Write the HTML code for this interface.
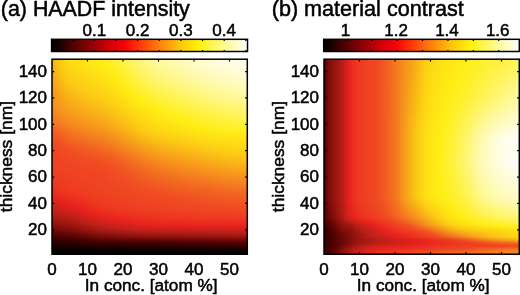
<!DOCTYPE html>
<html><head><meta charset="utf-8"><style>html,body{margin:0;padding:0;background:#fff;width:520px;height:295px;overflow:hidden;position:relative}
.hm{position:absolute;display:flex}.hm i{display:block;flex:0 0 2px;height:100%}</style></head>
<body>
<div class="hm" style="left:52px;top:59px;width:196px;height:196px"><i style="background:linear-gradient(#fab318,#fab118,#f9af18,#f9ac19,#f9aa19,#f9a819,#f9a61a,#f8a31a,#f8a11b,#f89e1b,#f89c1b,#f7991c,#f7971c,#f7941d,#f7911d,#f68f1e,#f68c1e,#f6881e,#f5841f,#f57f1f,#f47a1f,#f47520,#f36f20,#f36721,#f25f21,#f15722,#f15123,#f04d23,#f04a23,#f04823,#ef4723,#ef4622,#ef4422,#ef4322,#ef4222,#ef4122,#ee4022,#ee3f22,#ee3e21,#ee3d21,#ee3b21,#ed3821,#ed3520,#ec3120,#ec2c1f,#eb271f,#e7221e,#de221d,#d5211b,#cc211a,#c32019,#ba2018,#b01d16,#a51913,#991510,#8d110d,#7c0d0a,#6a0907,#580503,#460000,#360000,#270000,#190000,#0c0000,#020000,#000000)"></i><i style="background:linear-gradient(#fbba16,#fab817,#fab617,#fab317,#fab118,#f9ae18,#f9ac19,#f9a919,#f9a61a,#f8a41a,#f8a11b,#f89e1b,#f79b1c,#f7981c,#f7951d,#f7921d,#f68f1e,#f68b1e,#f6871e,#f5821f,#f57d1f,#f47720,#f47120,#f36a21,#f26221,#f15a22,#f15422,#f05023,#f04c23,#f04a23,#f04823,#ef4622,#ef4522,#ef4422,#ef4322,#ef4222,#ee4122,#ee4022,#ee3f21,#ee3d21,#ee3b21,#ed3921,#ed3620,#ec3220,#ec2e1f,#eb291f,#ea221e,#e1221d,#d8211c,#cf211b,#c5211a,#bc2018,#b11d16,#a61a13,#9b1610,#8e110d,#7e0d0a,#6c0907,#590504,#470101,#370000,#280000,#1a0000,#0d0000,#020000,#000000)"></i><i style="background:linear-gradient(#fbc215,#fbbf15,#fbbd16,#fbba16,#fab717,#fab517,#fab218,#f9af18,#f9ac19,#f9a919,#f9a51a,#f8a21a,#f89f1b,#f89b1b,#f7981c,#f7951c,#f7921d,#f68f1e,#f68a1e,#f5851f,#f5801f,#f47a1f,#f47420,#f36d20,#f26521,#f25d22,#f15722,#f15222,#f04e23,#f04b23,#f04923,#ef4723,#ef4622,#ef4522,#ef4322,#ef4222,#ef4122,#ee4022,#ee3f22,#ee3e21,#ee3c21,#ed3a21,#ed3721,#ed3420,#ec3020,#eb2b1f,#ea241e,#e3221d,#da211c,#d1211b,#c7211a,#bd2019,#b31e16,#a81a14,#9c1611,#90120d,#7f0e0a,#6d0907,#5b0504,#480101,#380000,#290000,#1a0000,#0d0000,#020000,#000000)"></i><i style="background:linear-gradient(#fcc814,#fcc614,#fcc315,#fbc115,#fbbe16,#fbbb16,#fab717,#fab417,#fab118,#f9ae18,#f9aa19,#f9a61a,#f8a31a,#f89f1b,#f89c1b,#f7981c,#f7951c,#f7911d,#f68d1e,#f6881e,#f5831f,#f57c1f,#f47620,#f36f20,#f36821,#f26021,#f15a22,#f15522,#f15123,#f04c23,#f04a23,#f04823,#ef4622,#ef4522,#ef4422,#ef4322,#ef4222,#ee4122,#ee3f22,#ee3e21,#ee3d21,#ee3b21,#ed3821,#ed3520,#ec3220,#ec2d1f,#eb261e,#e6221d,#dc211c,#d3211b,#ca211a,#bf2019,#b51f17,#aa1b14,#9d1711,#91120e,#810e0b,#6f0a07,#5c0604,#4a0101,#390000,#2a0000,#1b0000,#0d0000,#020000,#000000)"></i><i style="background:linear-gradient(#fccd14,#fccb14,#fcc914,#fcc714,#fcc415,#fbc015,#fbbd16,#fbb916,#fab617,#fab218,#f9ae18,#f9aa19,#f9a61a,#f8a21a,#f89f1b,#f89c1b,#f7981c,#f7941d,#f6901d,#f68b1e,#f5851f,#f57f1f,#f4791f,#f47220,#f36a21,#f26321,#f25d22,#f15822,#f15322,#f04e23,#f04b23,#f04923,#ef4723,#ef4622,#ef4422,#ef4322,#ef4222,#ef4122,#ee4022,#ee3f21,#ee3d21,#ee3b21,#ed3921,#ed3721,#ed3320,#ec2e20,#eb281f,#e8221e,#df221d,#d6211c,#cc211a,#c12019,#b71f17,#ab1b14,#9f1711,#92130e,#830e0b,#700a08,#5e0604,#4b0201,#3a0000,#2a0000,#1c0000,#0e0000,#020000,#000000)"></i><i style="background:linear-gradient(#fdd214,#fdd014,#fccd14,#fccb14,#fcc914,#fcc614,#fbc215,#fbbe16,#fbbb16,#fab717,#fab318,#f9ae18,#f9aa19,#f9a61a,#f8a21a,#f89f1b,#f79b1c,#f7971c,#f7931d,#f68e1e,#f6881e,#f5821f,#f47b1f,#f47420,#f36d20,#f36621,#f26021,#f15b22,#f15522,#f05023,#f04c23,#f04923,#f04823,#ef4622,#ef4522,#ef4422,#ef4322,#ef4122,#ee4022,#ee3f22,#ee3e21,#ee3c21,#ee3a21,#ed3821,#ed3520,#ec3020,#eb2a1f,#ea221e,#e1221d,#d8211c,#ce211b,#c32019,#b82018,#ad1c15,#a11812,#94130e,#850f0b,#720b08,#5f0605,#4c0201,#3b0000,#2b0000,#1c0000,#0e0000,#020000,#000000)"></i><i style="background:linear-gradient(#fdd614,#fdd314,#fdd114,#fdcf14,#fccc14,#fcca14,#fcc714,#fbc315,#fbbf16,#fbbb16,#fab617,#fab218,#f9ad18,#f9a919,#f9a51a,#f8a11a,#f89e1b,#f79a1c,#f7951c,#f6901d,#f68b1e,#f5841f,#f57e1f,#f47720,#f37020,#f36921,#f26321,#f25d22,#f15722,#f15222,#f04d23,#f04a23,#f04823,#ef4723,#ef4622,#ef4422,#ef4322,#ef4222,#ef4122,#ee4022,#ee3e21,#ee3d21,#ee3b21,#ed3921,#ed3620,#ec3220,#eb2b1f,#ea241e,#e3221d,#da211c,#d0211b,#c5211a,#ba2018,#af1c15,#a21812,#95140f,#870f0c,#740b08,#610705,#4e0202,#3c0000,#2c0000,#1d0000,#0e0000,#020000,#000000)"></i><i style="background:linear-gradient(#fdd914,#fdd714,#fdd414,#fdd214,#fdcf14,#fccd14,#fcca14,#fcc714,#fbc315,#fbbf16,#fbba16,#fab517,#fab018,#f9ac19,#f9a819,#f8a41a,#f8a01b,#f89c1b,#f7981c,#f7921d,#f68d1e,#f5861e,#f5801f,#f4791f,#f47220,#f36c20,#f26521,#f25f21,#f15922,#f15422,#f04f23,#f04b23,#f04923,#ef4723,#ef4622,#ef4522,#ef4322,#ef4222,#ef4122,#ee4022,#ee3f22,#ee3d21,#ee3c21,#ee3a21,#ed3821,#ed3320,#ec2d1f,#eb261e,#e6221d,#dc211c,#d2211b,#c8211a,#bc2018,#b11d16,#a41913,#97140f,#8a100c,#760b09,#630705,#4f0302,#3d0000,#2d0000,#1d0000,#0e0000,#030000,#000000)"></i><i style="background:linear-gradient(#fedc14,#fdd914,#fdd714,#fdd414,#fdd214,#fdcf14,#fccc14,#fcca14,#fcc614,#fbc215,#fbbd16,#fab817,#fab317,#f9af18,#f9ab19,#f9a71a,#f8a31a,#f89f1b,#f79a1c,#f7951d,#f68f1d,#f6891e,#f5821f,#f47b1f,#f47520,#f36e20,#f36821,#f26221,#f25b22,#f15522,#f05023,#f04c23,#f04a23,#f04823,#ef4722,#ef4522,#ef4422,#ef4322,#ef4222,#ee4022,#ee3f22,#ee3e21,#ee3d21,#ee3b21,#ed3921,#ed3420,#ec2e20,#eb271f,#e8221e,#df221d,#d5211b,#ca211a,#be2019,#b31e16,#a61a13,#991510,#8b100c,#780c09,#650706,#510302,#3e0000,#2e0000,#1e0000,#0f0000,#030000,#000000)"></i><i style="background:linear-gradient(#fede14,#fedb14,#fdd914,#fdd714,#fdd414,#fdd114,#fdce14,#fccc14,#fcc914,#fcc515,#fbc015,#fbbb16,#fab617,#fab118,#f9ad19,#f9a919,#f9a51a,#f8a11b,#f89c1b,#f7971c,#f6911d,#f68b1e,#f5841f,#f57e1f,#f47720,#f37020,#f36a21,#f26421,#f25d22,#f15722,#f15222,#f04e23,#f04a23,#f04923,#ef4723,#ef4622,#ef4422,#ef4322,#ef4222,#ef4122,#ee4022,#ee3f21,#ee3d21,#ee3c21,#ed3921,#ed3520,#ec3020,#eb291f,#ea221e,#e1221d,#d7211c,#cc211a,#c02019,#b51f17,#a81a14,#9b1610,#8d110d,#7a0c09,#670806,#520302,#3f0000,#2f0000,#1e0000,#0f0000,#030000,#000000)"></i><i style="background:linear-gradient(#fedf14,#fedd14,#fddb14,#fdd814,#fdd614,#fdd314,#fdd014,#fccd14,#fcca14,#fcc714,#fbc215,#fbbd16,#fab817,#fab417,#faaf18,#f9ab19,#f9a719,#f8a31a,#f89e1b,#f7991c,#f7931d,#f68d1e,#f5871e,#f5801f,#f4791f,#f47320,#f36c20,#f26621,#f25f21,#f15922,#f15322,#f04f23,#f04b23,#f04923,#ef4823,#ef4622,#ef4522,#ef4422,#ef4222,#ef4122,#ee4022,#ee3f22,#ee3e21,#ee3c21,#ee3a21,#ed3620,#ec3120,#eb2a1f,#ea231e,#e3221d,#d9211c,#ce211b,#c32019,#b71f17,#aa1b14,#9d1611,#8f120d,#7d0d0a,#690806,#540403,#410000,#300000,#1f0000,#0f0000,#030000,#000000)"></i><i style="background:linear-gradient(#fee114,#fedf14,#fedc14,#fdda14,#fdd714,#fdd514,#fdd214,#fdcf14,#fccc14,#fcc914,#fcc515,#fbc015,#fbbb16,#fab617,#fab118,#f9ad18,#f9a919,#f8a51a,#f8a01b,#f79a1c,#f7951d,#f68f1e,#f6891e,#f5821f,#f47b1f,#f47520,#f36e20,#f36721,#f26121,#f15a22,#f15522,#f05023,#f04c23,#f04a23,#f04823,#ef4622,#ef4522,#ef4422,#ef4322,#ef4222,#ee4022,#ee3f22,#ee3e21,#ee3d21,#ee3b21,#ed3721,#ec3220,#eb2c1f,#ea251e,#e6221d,#dc211c,#d1211b,#c5211a,#b92018,#ad1c15,#9f1711,#91120e,#800e0a,#6b0907,#560403,#420000,#300000,#1f0000,#0f0000,#030000,#000000)"></i><i style="background:linear-gradient(#fee214,#fee014,#fede14,#fedb14,#fdd914,#fdd614,#fdd314,#fdd014,#fcce14,#fcca14,#fcc714,#fbc215,#fbbd16,#fab817,#fab417,#faaf18,#f9ab19,#f9a71a,#f8a21a,#f89c1b,#f7961c,#f6911d,#f68b1e,#f5841f,#f57d1f,#f47720,#f37020,#f36921,#f26221,#f25c22,#f15622,#f15123,#f04d23,#f04a23,#f04823,#ef4722,#ef4522,#ef4422,#ef4322,#ef4222,#ef4122,#ee4022,#ee3f22,#ee3d21,#ee3c21,#ed3821,#ed3320,#ec2d1f,#eb271f,#e8221e,#de221d,#d4211b,#c8211a,#bc2018,#af1d15,#a11812,#93130e,#830e0b,#6e0a07,#580503,#440000,#310000,#200000,#100000,#030000,#000000)"></i><i style="background:linear-gradient(#fee414,#fee214,#fedf14,#fedd14,#fdda14,#fdd714,#fdd514,#fdd214,#fdcf14,#fccc14,#fcc914,#fcc415,#fbbf16,#fbba16,#fab617,#fab118,#f9ad18,#f9a819,#f8a31a,#f89e1b,#f7981c,#f7921d,#f68d1e,#f5861e,#f57f1f,#f47820,#f47220,#f36b21,#f26421,#f25d22,#f15722,#f15322,#f04e23,#f04b23,#f04923,#ef4723,#ef4622,#ef4522,#ef4322,#ef4222,#ef4122,#ee4022,#ee3f22,#ee3e21,#ee3c21,#ed3921,#ed3420,#ec2f20,#eb291f,#ea221e,#e1221d,#d6211c,#cb211a,#bf2019,#b21e16,#a41913,#96140f,#860f0b,#700a08,#5b0504,#450000,#320000,#210000,#100000,#030000,#000000)"></i><i style="background:linear-gradient(#fee514,#fee314,#fee014,#fede14,#fedb14,#fdd914,#fdd614,#fdd314,#fdd014,#fccd14,#fcca14,#fcc614,#fbc115,#fbbc16,#fab717,#fab317,#f9af18,#f9aa19,#f9a51a,#f8a01b,#f79a1c,#f7941d,#f68e1e,#f6881e,#f5811f,#f47a1f,#f47320,#f36c20,#f26521,#f25f21,#f15922,#f15422,#f04f23,#f04b23,#f04923,#f04823,#ef4622,#ef4522,#ef4422,#ef4322,#ef4222,#ee4122,#ee4022,#ee3e21,#ee3d21,#ed3a21,#ed3520,#ec3020,#eb2a1f,#ea241e,#e4221d,#d9211c,#ce211b,#c22019,#b51f17,#a71a13,#991510,#8a100c,#730b08,#5d0604,#470101,#340000,#210000,#100000,#030000,#000000)"></i><i style="background:linear-gradient(#fee614,#fee414,#fee114,#fedf14,#fedd14,#fdda14,#fdd714,#fdd414,#fdd114,#fdce14,#fccb14,#fcc814,#fbc315,#fbbe16,#fbb916,#fab517,#fab018,#f9ac19,#f9a71a,#f8a11a,#f89b1b,#f7951c,#f6901d,#f68a1e,#f5831f,#f57c1f,#f47520,#f36e20,#f36721,#f26021,#f15a22,#f15522,#f05023,#f04c23,#f04a23,#f04823,#ef4622,#ef4522,#ef4422,#ef4322,#ef4222,#ef4122,#ee4022,#ee3f22,#ee3d21,#ee3a21,#ed3620,#ec3120,#eb2c1f,#eb261f,#e7221e,#dc211c,#d1211b,#c52019,#b82018,#aa1b14,#9b1610,#8c110d,#760b09,#5f0605,#490101,#350000,#220000,#100000,#030000,#000000)"></i><i style="background:linear-gradient(#fee714,#fee514,#fee314,#fee014,#fede14,#fddb14,#fdd814,#fdd514,#fdd314,#fdd014,#fccc14,#fcc914,#fcc415,#fbc015,#fbbb16,#fab717,#fab218,#f9ad18,#f9a819,#f8a31a,#f89d1b,#f7971c,#f7911d,#f68b1e,#f5841f,#f57d1f,#f47620,#f36f20,#f36821,#f26221,#f25b22,#f15622,#f15123,#f04d23,#f04a23,#f04823,#ef4722,#ef4622,#ef4422,#ef4322,#ef4222,#ef4122,#ee4022,#ee3f22,#ee3e21,#ee3b21,#ed3721,#ec3320,#ec2e1f,#eb281f,#e9221e,#df221d,#d4211b,#c8211a,#bb2018,#ad1c15,#9e1711,#8f120d,#790c09,#620705,#4b0201,#360000,#220000,#110000,#030000,#000000)"></i><i style="background:linear-gradient(#ffe814,#fee614,#fee314,#fee114,#fedf14,#fedc14,#fdd914,#fdd714,#fdd414,#fdd114,#fcce14,#fcca14,#fcc614,#fbc115,#fbbd16,#fab817,#fab417,#faaf18,#f9aa19,#f8a41a,#f89f1b,#f7991c,#f7931d,#f68d1e,#f5861e,#f57f1f,#f47820,#f37120,#f36a21,#f26321,#f25d22,#f15722,#f15222,#f04e23,#f04b23,#f04923,#ef4723,#ef4622,#ef4522,#ef4422,#ef4322,#ef4222,#ee4122,#ee4022,#ee3e21,#ee3c21,#ed3821,#ed3420,#ec2f20,#eb2a1f,#ea241e,#e2221d,#d7211c,#cb211a,#be2019,#b01d16,#a11812,#91120e,#7c0d0a,#640705,#4d0201,#370000,#230000,#110000,#030000,#000000)"></i><i style="background:linear-gradient(#ffe914,#fee714,#fee414,#fee214,#fee014,#fedd14,#fdda14,#fdd814,#fdd514,#fdd214,#fdcf14,#fccb14,#fcc814,#fcc315,#fbbf16,#fbba16,#fab517,#fab118,#f9ab19,#f9a61a,#f8a01b,#f79a1c,#f7941d,#f68f1e,#f6881e,#f5811f,#f47a1f,#f47220,#f36b21,#f26521,#f25e22,#f15822,#f15322,#f04f23,#f04b23,#f04923,#ef4823,#ef4622,#ef4522,#ef4422,#ef4322,#ef4222,#ef4122,#ee4022,#ee3f21,#ee3c21,#ed3921,#ed3520,#ec3120,#ec2c1f,#eb261e,#e5221d,#da211c,#ce211b,#c12019,#b31e16,#a41913,#94130e,#7f0e0a,#660806,#4f0202,#380000,#230000,#110000,#030000,#000000)"></i><i style="background:linear-gradient(#ffea14,#fee814,#fee514,#fee314,#fee114,#fede14,#fedb14,#fdd914,#fdd614,#fdd314,#fdd014,#fccd14,#fcc914,#fcc515,#fbc015,#fbbc16,#fab717,#fab218,#f9ad19,#f9a719,#f8a21a,#f89c1b,#f7961c,#f6901d,#f68a1e,#f5821f,#f47b1f,#f47420,#f36d20,#f26621,#f26021,#f15a22,#f15422,#f05023,#f04c23,#f04923,#f04823,#ef4722,#ef4522,#ef4422,#ef4322,#ef4222,#ef4122,#ee4022,#ee3f22,#ee3d21,#ee3a21,#ed3620,#ec3320,#ec2e1f,#eb281f,#e8221e,#dd211c,#d1211b,#c42019,#b61f17,#a71a13,#96140f,#820e0b,#690806,#500302,#390000,#240000,#110000,#030000,#000000)"></i><i style="background:linear-gradient(#ffeb14,#ffe914,#fee614,#fee414,#fee214,#fedf14,#fedc14,#fdda14,#fdd714,#fdd414,#fdd114,#fcce14,#fcca14,#fcc714,#fbc215,#fbbd16,#fab917,#fab417,#f9af18,#f9a919,#f8a31a,#f89d1b,#f7981c,#f7921d,#f68b1e,#f5841f,#f57d1f,#f47520,#f36e20,#f36721,#f26121,#f15b22,#f15622,#f15123,#f04d23,#f04a23,#f04823,#ef4723,#ef4622,#ef4522,#ef4322,#ef4322,#ef4222,#ee4122,#ee3f22,#ee3d21,#ee3b21,#ed3821,#ed3420,#ec3020,#eb2a1f,#ea221e,#df221d,#d4211b,#c7211a,#b92018,#aa1b14,#991510,#850f0b,#6b0907,#520302,#3a0000,#240000,#120000,#030000,#000000)"></i><i style="background:linear-gradient(#ffec14,#ffe914,#fee714,#fee514,#fee314,#fee014,#fedd14,#fddb14,#fdd814,#fdd514,#fdd214,#fdcf14,#fccc14,#fcc814,#fcc415,#fbbf15,#fbba16,#fab517,#fab018,#f9ab19,#f8a51a,#f89f1b,#f7991c,#f7931d,#f68d1e,#f5861e,#f57e1f,#f47720,#f37020,#f36921,#f26221,#f25c22,#f15722,#f15222,#f04d23,#f04a23,#f04923,#ef4723,#ef4622,#ef4522,#ef4422,#ef4322,#ef4222,#ef4122,#ee4022,#ee3e21,#ee3c21,#ed3921,#ed3520,#ec3220,#eb2c1f,#ea241e,#e2221d,#d7211c,#ca211a,#bc2018,#ac1c15,#9b1610,#88100c,#6d0907,#540403,#3a0000,#240000,#120000,#030000,#000000)"></i><i style="background:linear-gradient(#ffed14,#ffea14,#ffe814,#fee614,#fee414,#fee114,#fedf14,#fedc14,#fdd914,#fdd614,#fdd314,#fdd014,#fccd14,#fcca14,#fcc614,#fbc115,#fbbc16,#fab717,#fab218,#f9ac19,#f9a71a,#f8a11b,#f79b1c,#f7951d,#f68f1e,#f6871e,#f5801f,#f47820,#f47120,#f36b21,#f26421,#f25e22,#f15822,#f15322,#f04e23,#f04b23,#f04923,#f04823,#ef4622,#ef4522,#ef4422,#ef4322,#ef4222,#ef4122,#ee4022,#ee3e21,#ee3c21,#ed3a21,#ed3721,#ec3320,#ec2e1f,#eb261f,#e5221d,#da211c,#cd211a,#bf2019,#af1d15,#9d1711,#8b100c,#6f0a07,#550403,#3b0000,#250000,#120000,#030000,#000000)"></i><i style="background:linear-gradient(#ffee14,#ffec14,#ffe914,#fee714,#fee514,#fee214,#fee014,#fedd14,#fdda14,#fdd814,#fdd514,#fdd114,#fcce14,#fccb14,#fcc714,#fbc315,#fbbe16,#fab917,#fab317,#f9ae18,#f9a819,#f8a21a,#f89d1b,#f7971c,#f6901d,#f6891e,#f5821f,#f47a1f,#f47320,#f36c20,#f26521,#f25f21,#f15922,#f15422,#f04f23,#f04b23,#f04a23,#f04823,#ef4722,#ef4622,#ef4522,#ef4422,#ef4322,#ef4222,#ee4122,#ee3f22,#ee3d21,#ee3b21,#ed3821,#ed3420,#ec2f20,#eb281f,#e7221e,#dc211c,#cf211b,#c12019,#b11d16,#a01711,#8c110d,#710a08,#570403,#3c0000,#250000,#120000,#030000,#000000)"></i><i style="background:linear-gradient(#ffee16,#ffed14,#ffeb14,#ffe814,#fee614,#fee314,#fee114,#fede14,#fedc14,#fdd914,#fdd614,#fdd314,#fdd014,#fccc14,#fcc914,#fcc415,#fbc015,#fbba16,#fab517,#fab018,#f9aa19,#f8a41a,#f89e1b,#f7981c,#f7921d,#f68b1e,#f5831f,#f57c1f,#f47520,#f36e20,#f36721,#f26121,#f15a22,#f15522,#f05023,#f04c23,#f04a23,#f04923,#ef4723,#ef4622,#ef4522,#ef4422,#ef4322,#ef4222,#ef4122,#ee3f22,#ee3e21,#ee3b21,#ed3921,#ed3620,#ec3120,#eb2a1f,#e9221e,#de221d,#d2211b,#c32019,#b41e17,#a21812,#8e110d,#730b08,#580503,#3d0000,#260000,#120000,#030000,#000000)"></i><i style="background:linear-gradient(#ffee19,#ffee14,#ffec14,#ffea14,#fee714,#fee514,#fee214,#fee014,#fedd14,#fdda14,#fdd714,#fdd414,#fdd114,#fcce14,#fcca14,#fcc614,#fbc115,#fbbc16,#fab717,#fab118,#f9ac19,#f9a61a,#f8a01b,#f79a1c,#f7941d,#f68d1e,#f5851f,#f57e1f,#f47620,#f37020,#f36921,#f26221,#f25c22,#f15622,#f15123,#f04d23,#f04b23,#f04923,#f04823,#ef4722,#ef4522,#ef4522,#ef4422,#ef4322,#ef4122,#ee4022,#ee3e21,#ee3c21,#ed3a21,#ed3721,#ec3220,#eb2b1f,#ea231e,#e0221d,#d4211b,#c5211a,#b61f17,#a31912,#8f120d,#750b08,#590504,#3d0000,#260000,#130000,#030000,#000000)"></i><i style="background:linear-gradient(#ffef1c,#ffee17,#ffed14,#ffeb14,#ffe914,#fee614,#fee414,#fee114,#fede14,#fedc14,#fdd914,#fdd614,#fdd214,#fdcf14,#fccc14,#fcc814,#fcc315,#fbbe16,#fab917,#fab317,#f9ae18,#f9a819,#f8a21a,#f89c1b,#f7951c,#f68f1e,#f6871e,#f5801f,#f47820,#f47220,#f36b21,#f26421,#f25d22,#f15722,#f15222,#f04e23,#f04b23,#f04a23,#f04823,#ef4723,#ef4622,#ef4522,#ef4422,#ef4322,#ef4222,#ee4022,#ee3f22,#ee3d21,#ee3a21,#ed3821,#ec3320,#eb2c1f,#ea241e,#e2221d,#d6211c,#c7211a,#b82018,#a51913,#91120e,#760c09,#5a0504,#3e0000,#260000,#130000,#030000,#000000)"></i><i style="background:linear-gradient(#ffef1f,#ffef1b,#ffee16,#ffed14,#ffea14,#ffe814,#fee514,#fee314,#fee014,#fedd14,#fdda14,#fdd714,#fdd414,#fdd114,#fccd14,#fcca14,#fcc514,#fbc015,#fbbb16,#fab517,#fab018,#f9aa19,#f8a41a,#f89e1b,#f7971c,#f6911d,#f68a1e,#f5821f,#f47a1f,#f47420,#f36c20,#f26521,#f25f21,#f15922,#f15322,#f04f23,#f04c23,#f04a23,#f04923,#ef4823,#ef4622,#ef4522,#ef4522,#ef4422,#ef4222,#ef4122,#ee3f22,#ee3d21,#ee3b21,#ed3821,#ed3420,#ec2d1f,#ea251e,#e4221d,#d7211c,#c9211a,#b92018,#a61a13,#92130e,#780c09,#5a0504,#3e0000,#270000,#130000,#030000,#000000)"></i><i style="background:linear-gradient(#ffef23,#ffef1f,#ffee1a,#ffee15,#ffec14,#ffea14,#fee714,#fee414,#fee214,#fedf14,#fedc14,#fdd914,#fdd614,#fdd214,#fdcf14,#fccb14,#fcc814,#fbc215,#fbbd16,#fab817,#fab218,#f9ac19,#f9a61a,#f8a01b,#f79a1c,#f7931d,#f68c1e,#f5841f,#f57d1f,#f47620,#f36e20,#f36721,#f26021,#f15a22,#f15522,#f15123,#f04d23,#f04b23,#f04923,#f04823,#ef4723,#ef4622,#ef4522,#ef4422,#ef4322,#ef4222,#ee4022,#ee3e21,#ee3c21,#ed3921,#ed3420,#ec2e1f,#eb261f,#e5221d,#d9211c,#cb211a,#bb2018,#a81a14,#93130e,#790c09,#5b0504,#3e0000,#270000,#130000,#030000,#000000)"></i><i style="background:linear-gradient(#fff028,#ffef23,#ffef1e,#ffee19,#ffee14,#ffeb14,#ffe914,#fee614,#fee314,#fee114,#fede14,#fddb14,#fdd714,#fdd414,#fdd014,#fccd14,#fcc914,#fcc515,#fbbf15,#fbba16,#fab417,#f9af18,#f9a919,#f8a21a,#f89c1b,#f7951c,#f68e1e,#f5871e,#f57f1f,#f47820,#f37120,#f36921,#f26221,#f25c22,#f15622,#f15222,#f04f23,#f04c23,#f04a23,#f04923,#ef4823,#ef4722,#ef4622,#ef4522,#ef4322,#ef4222,#ee4122,#ee3f21,#ee3c21,#ed3921,#ed3520,#ec2f20,#eb271f,#e7221e,#da211c,#cc211a,#bc2018,#a91b14,#94130f,#7a0c09,#5b0504,#3f0000,#270000,#130000,#030000,#000000)"></i><i style="background:linear-gradient(#fff02c,#fff028,#ffef23,#ffef1e,#ffee18,#ffed14,#ffeb14,#ffe814,#fee514,#fee214,#fedf14,#fedc14,#fdd914,#fdd614,#fdd214,#fdcf14,#fccb14,#fcc714,#fbc215,#fbbc16,#fab717,#fab118,#f9ab19,#f8a51a,#f89e1b,#f7971c,#f6901d,#f6891e,#f5821f,#f47a1f,#f47320,#f36c20,#f26421,#f25e22,#f15822,#f15422,#f05023,#f04d23,#f04b23,#f04923,#f04823,#ef4723,#ef4622,#ef4522,#ef4422,#ef4322,#ef4122,#ee3f22,#ee3d21,#ee3a21,#ed3620,#ec3020,#eb291f,#e8221e,#dc211c,#ce211b,#be2019,#ab1b14,#95140f,#7b0d09,#5c0504,#3f0000,#280000,#130000,#030000,#000000)"></i><i style="background:linear-gradient(#fff031,#fff02d,#fff028,#ffef22,#ffef1d,#ffee17,#ffed14,#ffea14,#fee714,#fee414,#fee114,#fede14,#fddb14,#fdd714,#fdd414,#fdd014,#fccd14,#fcc914,#fcc415,#fbbe16,#fab917,#fab317,#f9ae18,#f9a719,#f8a11b,#f79a1c,#f7931d,#f68c1e,#f5841f,#f57d1f,#f47520,#f36e20,#f36621,#f26021,#f15a22,#f15522,#f15222,#f04f23,#f04c23,#f04a23,#f04923,#f04823,#ef4722,#ef4622,#ef4422,#ef4322,#ef4222,#ee4022,#ee3d21,#ee3b21,#ed3620,#ec3120,#eb2a1f,#ea221e,#de211c,#cf211b,#c02019,#ac1c15,#96140f,#7c0d0a,#5c0604,#3f0000,#280000,#140000,#030000,#000000)"></i><i style="background:linear-gradient(#fff136,#fff032,#fff02d,#fff027,#ffef22,#ffef1c,#ffee16,#ffec14,#ffe914,#fee614,#fee314,#fee014,#fedd14,#fdd914,#fdd614,#fdd214,#fdce14,#fccb14,#fcc614,#fbc115,#fbbc16,#fab617,#fab018,#f9aa19,#f8a41a,#f89d1b,#f7951c,#f68e1e,#f6871e,#f5801f,#f47820,#f37020,#f36921,#f26221,#f25c22,#f15722,#f15322,#f05023,#f04d23,#f04b23,#f04a23,#f04823,#ef4723,#ef4622,#ef4522,#ef4422,#ef4222,#ee4022,#ee3e21,#ee3b21,#ed3721,#ec3120,#eb2b1f,#ea231e,#df221d,#d1211b,#c12019,#ad1c15,#97150f,#7d0d0a,#5d0604,#3f0000,#280000,#140000,#030000,#000000)"></i><i style="background:linear-gradient(#fff13c,#fff137,#fff032,#fff02c,#fff027,#ffef21,#ffef1b,#ffee14,#ffeb14,#ffe814,#fee514,#fee214,#fedf14,#fedb14,#fdd814,#fdd414,#fdd014,#fccc14,#fcc914,#fcc415,#fbbe16,#fab917,#fab318,#f9ad19,#f9a61a,#f89f1b,#f7981c,#f6911d,#f68a1e,#f5821f,#f47b1f,#f47320,#f36b21,#f26421,#f25e22,#f15922,#f15522,#f15222,#f04f23,#f04c23,#f04a23,#f04923,#f04823,#ef4722,#ef4522,#ef4422,#ef4222,#ee4122,#ee3e21,#ee3c21,#ed3821,#ec3220,#eb2c1f,#ea241e,#e1221d,#d2211b,#c32019,#af1d15,#981510,#7e0d0a,#5d0604,#400000,#290000,#140000,#030000,#000000)"></i><i style="background:linear-gradient(#fff241,#fff13c,#fff137,#fff032,#fff02c,#fff026,#ffef20,#ffee19,#ffed14,#ffea14,#fee714,#fee414,#fee114,#fedd14,#fdd914,#fdd614,#fdd214,#fcce14,#fcca14,#fcc614,#fbc115,#fbbb16,#fab617,#fab018,#f9a919,#f8a21a,#f79b1c,#f7941d,#f68d1e,#f5851f,#f57d1f,#f47520,#f36e20,#f36621,#f26021,#f15b22,#f15722,#f15322,#f05023,#f04d23,#f04b23,#f04a23,#f04923,#ef4723,#ef4622,#ef4422,#ef4322,#ef4122,#ee3f22,#ee3c21,#ed3821,#ec3320,#ec2d1f,#ea251e,#e2221d,#d4211b,#c42019,#b01d16,#991510,#7f0e0a,#5e0604,#400000,#290000,#140000,#030000,#000000)"></i><i style="background:linear-gradient(#fff247,#fff242,#fff13d,#fff137,#fff031,#fff02b,#ffef25,#ffef1e,#ffee17,#ffec14,#ffe914,#fee614,#fee214,#fedf14,#fedb14,#fdd814,#fdd414,#fdd014,#fccc14,#fcc914,#fcc315,#fbbe16,#fab917,#fab318,#f9ac19,#f9a51a,#f89e1b,#f7961c,#f68f1d,#f6881e,#f5801f,#f47820,#f37020,#f36921,#f26221,#f25d22,#f15922,#f15522,#f15222,#f04f23,#f04c23,#f04a23,#f04923,#f04823,#ef4622,#ef4522,#ef4322,#ef4122,#ee3f22,#ee3d21,#ed3921,#ed3420,#ec2d1f,#eb261f,#e3221d,#d5211b,#c6211a,#b11d16,#9a1610,#810e0a,#5e0604,#400000,#290000,#140000,#030000,#000000)"></i><i style="background:linear-gradient(#fff34d,#fff248,#fff243,#fff13d,#fff137,#fff031,#fff02a,#ffef23,#ffef1c,#ffee15,#ffeb14,#ffe814,#fee414,#fee114,#fedd14,#fdda14,#fdd614,#fdd214,#fcce14,#fcca14,#fcc614,#fbc115,#fbbb16,#fab517,#faaf18,#f9a819,#f8a01b,#f7991c,#f7921d,#f68b1e,#f5831f,#f47b1f,#f47320,#f36b21,#f26521,#f25f21,#f15b22,#f15722,#f15422,#f15023,#f04e23,#f04b23,#f04a23,#f04823,#ef4722,#ef4522,#ef4422,#ef4222,#ee4022,#ee3d21,#ed3921,#ed3420,#ec2e20,#eb271f,#e5221d,#d7211c,#c7211a,#b31e16,#9b1610,#810e0b,#5f0605,#400000,#2a0000,#140000,#030000,#000000)"></i><i style="background:linear-gradient(#fff353,#fff34e,#fff248,#fff243,#fff13d,#fff136,#fff02f,#fff028,#ffef21,#ffee1a,#ffed14,#ffea14,#fee614,#fee314,#fedf14,#fedb14,#fdd814,#fdd414,#fdd014,#fccc14,#fcc914,#fcc415,#fbbe16,#fab817,#fab218,#f9ab19,#f8a31a,#f89c1b,#f7941d,#f68e1e,#f5861e,#f57d1f,#f47520,#f36e20,#f36721,#f26221,#f25d22,#f15922,#f15522,#f15222,#f04f23,#f04c23,#f04a23,#f04923,#ef4723,#ef4622,#ef4422,#ef4222,#ee4022,#ee3d21,#ed3a21,#ed3520,#ec2f20,#eb281f,#e6221e,#d8211c,#c9211a,#b41e17,#9c1611,#820e0b,#5f0605,#410000,#2a0000,#140000,#030000,#000000)"></i><i style="background:linear-gradient(#fff459,#fff354,#fff34e,#fff248,#fff242,#fff13c,#fff135,#fff02e,#fff026,#ffef1f,#ffee17,#ffec14,#ffe814,#fee514,#fee114,#fedd14,#fdda14,#fdd614,#fdd214,#fcce14,#fccb14,#fcc714,#fbc115,#fbbb16,#fab517,#f9ae18,#f9a61a,#f89e1b,#f7971c,#f6901d,#f6891e,#f5801f,#f47820,#f37020,#f36a21,#f26421,#f25f21,#f15b22,#f15722,#f15422,#f05023,#f04e23,#f04b23,#f04923,#f04823,#ef4622,#ef4522,#ef4322,#ee4022,#ee3e21,#ee3a21,#ed3620,#ec3020,#eb291f,#e7221e,#da211c,#ca211a,#b51f17,#9d1711,#830e0b,#5f0605,#410000,#2a0000,#150000,#030000,#000000)"></i><i style="background:linear-gradient(#fff45f,#fff45a,#fff354,#fff34e,#fff248,#fff241,#fff13a,#fff133,#fff02b,#ffef23,#ffef1c,#ffee14,#ffea14,#fee714,#fee314,#fedf14,#fedc14,#fdd814,#fdd414,#fdd014,#fccd14,#fcc914,#fcc415,#fbbe16,#fab817,#fab118,#f9a919,#f8a11a,#f79a1c,#f7931d,#f68c1e,#f5831f,#f47b1f,#f47320,#f36c20,#f36621,#f26121,#f25d22,#f15922,#f15522,#f15222,#f04f23,#f04c23,#f04a23,#f04823,#ef4722,#ef4522,#ef4322,#ef4122,#ee3e21,#ee3b21,#ed3620,#ec3120,#eb2a1f,#e9221e,#db211c,#cb211a,#b61f17,#9e1711,#840f0b,#600605,#410000,#2a0000,#150000,#030000,#000000)"></i><i style="background:linear-gradient(#fff565,#fff460,#fff45a,#fff354,#fff34d,#fff247,#fff23f,#fff138,#fff030,#fff028,#ffef20,#ffee18,#ffec14,#ffe914,#fee514,#fee114,#fedd14,#fdda14,#fdd614,#fdd214,#fdcf14,#fccb14,#fcc714,#fbc115,#fbbb16,#fab417,#f9ac19,#f8a41a,#f89c1b,#f7951c,#f68e1e,#f5861e,#f57e1f,#f47620,#f36f20,#f36921,#f26321,#f25f21,#f15b22,#f15722,#f15322,#f05023,#f04d23,#f04b23,#f04923,#ef4723,#ef4522,#ef4322,#ef4122,#ee3f21,#ee3b21,#ed3721,#ec3220,#eb2b1f,#ea221e,#dc211c,#cc211a,#b71f18,#9f1711,#850f0b,#600605,#410000,#2b0000,#150000,#030000,#000000)"></i><i style="background:linear-gradient(#fff56b,#fff565,#fff460,#fff459,#fff353,#fff34c,#fff245,#fff13d,#fff135,#fff02d,#ffef25,#ffef1d,#ffee15,#ffeb14,#fee714,#fee314,#fedf14,#fedb14,#fdd814,#fdd414,#fdd014,#fccd14,#fcc914,#fcc415,#fbbe16,#fab717,#f9af18,#f9a71a,#f89f1b,#f7981c,#f6911d,#f6891e,#f5801f,#f47820,#f47120,#f36b21,#f26621,#f26121,#f25c22,#f15822,#f15522,#f15123,#f04e23,#f04b23,#f04923,#ef4823,#ef4622,#ef4422,#ef4222,#ee3f22,#ee3c21,#ed3721,#ec3220,#eb2c1f,#ea231e,#dd211c,#ce211b,#b92018,#a01712,#860f0b,#600605,#410000,#2b0000,#150000,#030000,#000000)"></i><i style="background:linear-gradient(#fff671,#fff56b,#fff565,#fff45f,#fff459,#fff352,#fff34a,#fff242,#fff13a,#fff032,#fff02a,#ffef22,#ffee19,#ffed14,#ffe914,#fee514,#fee114,#fedd14,#fdda14,#fdd614,#fdd214,#fdcf14,#fccb14,#fcc714,#fbc115,#fbba16,#fab218,#f9a919,#f8a21a,#f79a1c,#f7931d,#f68c1e,#f5831f,#f47b1f,#f47420,#f36d20,#f36821,#f26321,#f25e22,#f15a22,#f15622,#f15322,#f04f23,#f04c23,#f04a23,#f04823,#ef4622,#ef4422,#ef4222,#ee3f22,#ee3c21,#ed3821,#ec3320,#ec2d1f,#ea241e,#de221d,#cf211b,#ba2018,#a01812,#870f0b,#610705,#420000,#2b0000,#150000,#030000,#000000)"></i><i style="background:linear-gradient(#fff677,#fff671,#fff56b,#fff565,#fff45e,#fff457,#fff34f,#fff247,#fff23f,#fff137,#fff02e,#ffef26,#ffef1e,#ffee15,#ffeb14,#fee714,#fee314,#fedf14,#fedb14,#fdd814,#fdd414,#fdd114,#fccd14,#fcc914,#fcc415,#fbbd16,#fab517,#f9ac19,#f8a41a,#f89d1b,#f7951c,#f68e1e,#f5861e,#f57e1f,#f47620,#f37020,#f36a21,#f26521,#f26021,#f25c22,#f15822,#f15422,#f15023,#f04d23,#f04a23,#f04823,#ef4622,#ef4422,#ef4222,#ee4022,#ee3c21,#ed3821,#ed3420,#ec2e1f,#ea251e,#e0221d,#d0211b,#bb2018,#a11812,#880f0c,#610705,#420000,#2b0000,#150000,#030000,#000000)"></i><i style="background:linear-gradient(#fff77c,#fff677,#fff670,#fff56a,#fff563,#fff45c,#fff354,#fff34c,#fff244,#fff13b,#fff133,#fff02a,#ffef22,#ffee19,#ffed14,#ffe914,#fee514,#fee114,#fedd14,#fdda14,#fdd614,#fdd314,#fdcf14,#fccb14,#fcc714,#fbbf15,#fab717,#f9af18,#f9a71a,#f89f1b,#f7981c,#f6901d,#f6891e,#f5801f,#f4791f,#f47220,#f36c20,#f36721,#f26221,#f25d22,#f15922,#f15522,#f15222,#f04e23,#f04b23,#f04923,#ef4722,#ef4522,#ef4322,#ee4022,#ee3d21,#ed3921,#ed3420,#ec2e20,#eb251e,#e1221d,#d1211b,#bb2018,#a21812,#88100c,#610705,#420000,#2c0000,#150000,#030000,#000000)"></i><i style="background:linear-gradient(#fff782,#fff77c,#fff676,#fff66f,#fff568,#fff461,#fff459,#fff351,#fff248,#fff240,#fff137,#fff02f,#fff026,#ffef1d,#ffee15,#ffea14,#fee714,#fee314,#fedf14,#fedb14,#fdd814,#fdd514,#fdd114,#fccd14,#fcc914,#fbc215,#fbba16,#fab118,#f9a919,#f8a21a,#f79a1c,#f7931d,#f68b1e,#f5831f,#f47b1f,#f47520,#f36e20,#f36921,#f26421,#f25f21,#f15a22,#f15622,#f15322,#f04f23,#f04b23,#f04923,#ef4723,#ef4522,#ef4322,#ee4022,#ee3d21,#ed3921,#ed3520,#ec2f20,#eb261f,#e2221d,#d2211b,#bc2018,#a31812,#89100c,#610705,#420000,#2c0000,#150000,#040000,#000000)"></i><i style="background:linear-gradient(#fff887,#fff781,#fff77b,#fff674,#fff56d,#fff566,#fff45e,#fff356,#fff34d,#fff244,#fff13b,#fff133,#fff02a,#ffef22,#ffee19,#ffec14,#ffe814,#fee514,#fee114,#fedd14,#fdda14,#fdd614,#fdd314,#fdcf14,#fccb14,#fcc515,#fbbc16,#fab417,#f9ac19,#f8a41a,#f89c1b,#f7951d,#f68e1e,#f5861e,#f57e1f,#f47720,#f37120,#f36b21,#f26521,#f26021,#f25c22,#f15822,#f15422,#f05023,#f04c23,#f04a23,#ef4823,#ef4522,#ef4322,#ee4022,#ee3d21,#ed3a21,#ed3520,#ec3020,#eb271f,#e2221d,#d3211b,#bd2018,#a31912,#8a100c,#620705,#420000,#2c0000,#150000,#040000,#000000)"></i><i style="background:linear-gradient(#fff88c,#fff886,#fff780,#fff679,#fff672,#fff56b,#fff563,#fff45a,#fff351,#fff248,#fff240,#fff137,#fff02e,#ffef25,#ffef1d,#ffee14,#ffea14,#fee614,#fee214,#fedf14,#fedb14,#fdd814,#fdd514,#fdd114,#fccc14,#fcc714,#fbbf16,#fab617,#f9ae18,#f9a61a,#f89e1b,#f7971c,#f6901d,#f6881e,#f5801f,#f4791f,#f47320,#f36d20,#f36721,#f26221,#f25d22,#f15922,#f15522,#f15123,#f04d23,#f04a23,#f04823,#ef4622,#ef4322,#ef4122,#ee3e21,#ee3a21,#ed3620,#ec3020,#eb281f,#e3221d,#d4211b,#be2019,#a41913,#8a100c,#620705,#420000,#2c0000,#160000,#040000,#000000)"></i><i style="background:linear-gradient(#fff891,#fff88b,#fff784,#fff77e,#fff677,#fff66f,#fff567,#fff45e,#fff356,#fff34d,#fff244,#fff13b,#fff132,#fff029,#ffef20,#ffee18,#ffec14,#ffe814,#fee414,#fee014,#fedd14,#fdda14,#fdd614,#fdd214,#fcce14,#fcc914,#fbc115,#fab817,#fab018,#f9a819,#f8a11b,#f7991c,#f7921d,#f68a1e,#f5821f,#f47b1f,#f47520,#f36e20,#f36921,#f26321,#f25e22,#f15a22,#f15622,#f15222,#f04e23,#f04a23,#f04823,#ef4622,#ef4422,#ef4122,#ee3e21,#ee3b21,#ed3620,#ec3120,#eb281f,#e4221d,#d4211b,#be2019,#a41913,#8b100c,#620705,#430000,#2d0000,#160000,#040000,#000000)"></i><i style="background:linear-gradient(#fff995,#fff88f,#fff889,#fff782,#fff77b,#fff673,#fff56b,#fff562,#fff45a,#fff351,#fff248,#fff23f,#fff136,#fff02d,#ffef24,#ffef1b,#ffed14,#ffe914,#fee614,#fee214,#fede14,#fedb14,#fdd814,#fdd414,#fdd014,#fccb14,#fcc315,#fbbb16,#fab218,#f9aa19,#f8a31a,#f79b1c,#f7941d,#f68d1e,#f5851f,#f57d1f,#f47720,#f37020,#f36a21,#f26521,#f26021,#f15b22,#f15722,#f15222,#f04e23,#f04b23,#f04923,#ef4622,#ef4422,#ef4122,#ee3e21,#ee3b21,#ed3721,#ec3120,#eb291f,#e5221d,#d5211b,#bf2019,#a51913,#8b100c,#630705,#430000,#2d0000,#160000,#040000,#000000)"></i><i style="background:linear-gradient(#fff999,#fff893,#fff88d,#fff886,#fff77f,#fff677,#fff66f,#fff566,#fff45d,#fff354,#fff34b,#fff242,#fff139,#fff030,#fff028,#ffef1f,#ffee16,#ffeb14,#fee714,#fee314,#fee014,#fedd14,#fdd914,#fdd514,#fdd114,#fccc14,#fcc514,#fbbd16,#fab417,#f9ac19,#f8a51a,#f89d1b,#f7951c,#f68e1e,#f6871e,#f57f1f,#f47820,#f47220,#f36c20,#f36621,#f26121,#f25c22,#f15822,#f15322,#f04f23,#f04b23,#f04923,#ef4722,#ef4422,#ef4222,#ee3f21,#ee3b21,#ed3721,#ec3220,#eb291f,#e5221d,#d6211b,#c02019,#a51913,#8b100c,#630705,#430000,#2d0000,#160000,#040000,#000000)"></i><i style="background:linear-gradient(#fff99c,#fff997,#fff890,#fff88a,#fff783,#fff77b,#fff673,#fff56a,#fff461,#fff458,#fff34f,#fff246,#fff13d,#fff134,#fff02b,#ffef22,#ffee19,#ffec14,#ffe814,#fee514,#fee114,#fede14,#fdda14,#fdd714,#fdd214,#fccd14,#fcc714,#fbbe16,#fab617,#f9ae18,#f9a61a,#f89f1b,#f7971c,#f6901d,#f6891e,#f5811f,#f47a1f,#f47420,#f36d20,#f36821,#f26221,#f25d22,#f15922,#f15422,#f05023,#f04c23,#f04923,#ef4723,#ef4522,#ef4222,#ee3f22,#ee3c21,#ed3821,#ec3220,#eb2a1f,#e6221d,#d6211c,#c02019,#a61a13,#8c110c,#630705,#430000,#2d0000,#160000,#040000,#000000)"></i><i style="background:linear-gradient(#fff99f,#fff99a,#fff894,#fff88d,#fff786,#fff77e,#fff676,#fff56d,#fff564,#fff45b,#fff352,#fff249,#fff240,#fff137,#fff02e,#ffef25,#ffef1c,#ffee14,#ffea14,#fee614,#fee314,#fedf14,#fedc14,#fdd814,#fdd414,#fdce14,#fcc914,#fbc015,#fab817,#fab018,#f9a819,#f8a01b,#f7991c,#f7921d,#f68b1e,#f5831f,#f57c1f,#f47520,#f36f20,#f36921,#f26321,#f25e22,#f15a22,#f15522,#f15123,#f04c23,#f04a23,#ef4723,#ef4522,#ef4222,#ee3f22,#ee3c21,#ed3821,#ec3220,#eb2a1f,#e6221e,#d6211c,#c02019,#a61a13,#8c110d,#640705,#440000,#2d0000,#160000,#040000,#000000)"></i><i style="background:linear-gradient(#fff9a2,#fff99c,#fff996,#fff890,#fff889,#fff781,#fff679,#fff670,#fff567,#fff45e,#fff355,#fff34c,#fff243,#fff13a,#fff031,#fff028,#ffef1f,#ffee16,#ffeb14,#fee714,#fee414,#fee014,#fedd14,#fdd914,#fdd514,#fdd014,#fcca14,#fbc215,#fbb916,#fab118,#f9aa19,#f8a21a,#f79a1c,#f7931d,#f68c1e,#f5851f,#f57d1f,#f47720,#f37020,#f36a21,#f26421,#f25f21,#f15a22,#f15622,#f15123,#f04d23,#f04a23,#f04823,#ef4522,#ef4222,#ee4022,#ee3c21,#ed3821,#ec3320,#eb2a1f,#e7221e,#d7211c,#c12019,#a71a13,#8d110d,#640705,#440000,#2e0000,#160000,#040000,#000000)"></i><i style="background:linear-gradient(#fffaa5,#fff99f,#fff999,#fff893,#fff88c,#fff784,#fff77c,#fff673,#fff56a,#fff461,#fff458,#fff34f,#fff246,#fff13d,#fff134,#fff02b,#ffef22,#ffee18,#ffec14,#ffe814,#fee514,#fee114,#fede14,#fdda14,#fdd614,#fdd014,#fccb14,#fbc315,#fbbb16,#fab318,#f9ab19,#f8a31a,#f89c1b,#f7951d,#f68e1e,#f5861e,#f57f1f,#f47820,#f47120,#f36b21,#f26621,#f26021,#f25b22,#f15722,#f15222,#f04e23,#f04a23,#f04823,#ef4622,#ef4322,#ee4022,#ee3d21,#ed3821,#ec3320,#eb2a1f,#e7221e,#d7211c,#c12019,#a71a13,#8d110d,#640706,#440000,#2e0000,#160000,#040000,#000000)"></i><i style="background:linear-gradient(#fffaa7,#fff9a2,#fff99c,#fff995,#fff88e,#fff887,#fff77f,#fff676,#fff56d,#fff564,#fff45b,#fff352,#fff249,#fff240,#fff137,#fff02d,#ffef24,#ffef1b,#ffed14,#ffe914,#fee614,#fee214,#fedf14,#fddb14,#fdd714,#fdd114,#fccc14,#fcc415,#fbbc16,#fab417,#f9ad19,#f8a51a,#f89d1b,#f7961c,#f68f1d,#f6881e,#f5801f,#f4791f,#f47320,#f36c20,#f36721,#f26121,#f25c22,#f15722,#f15322,#f04e23,#f04b23,#f04823,#ef4622,#ef4322,#ee4022,#ee3d21,#ed3921,#ec3320,#eb2b1f,#e7221e,#d7211c,#c12019,#a71a14,#8d110d,#650706,#440000,#2e0000,#160000,#040000,#000000)"></i><i style="background:linear-gradient(#fffaaa,#fff9a4,#fff99e,#fff998,#fff891,#fff88a,#fff782,#fff679,#fff670,#fff567,#fff45e,#fff355,#fff34c,#fff243,#fff139,#fff030,#fff027,#ffef1e,#ffee15,#ffeb14,#fee714,#fee314,#fee014,#fedc14,#fdd814,#fdd214,#fccd14,#fcc614,#fbbd16,#fab617,#f9ae18,#f9a61a,#f89f1b,#f7981c,#f6911d,#f6891e,#f5821f,#f47b1f,#f47420,#f36e20,#f36821,#f26221,#f25d22,#f15822,#f15322,#f04f23,#f04b23,#f04923,#ef4622,#ef4322,#ee4022,#ee3d21,#ed3921,#ed3320,#eb2b1f,#e7221e,#d7211c,#c12019,#a81a14,#8d110d,#650806,#450000,#2e0000,#170000,#040000,#000000)"></i><i style="background:linear-gradient(#fffaac,#fffaa7,#fff9a1,#fff99b,#fff894,#fff88d,#fff785,#fff77c,#fff673,#fff56a,#fff461,#fff458,#fff34f,#fff246,#fff13c,#fff133,#fff02a,#ffef21,#ffee18,#ffec14,#ffe814,#fee514,#fee114,#fedd14,#fdd914,#fdd314,#fcce14,#fcc714,#fbbf16,#fab717,#faaf18,#f9a819,#f8a01b,#f7991c,#f7921d,#f68b1e,#f5831f,#f57c1f,#f47520,#f36f20,#f36921,#f26321,#f25e22,#f15922,#f15422,#f05023,#f04c23,#f04923,#ef4622,#ef4422,#ee4122,#ee3d21,#ed3921,#ed3320,#eb2b1f,#e8221e,#d7211c,#c12019,#a81a14,#8e110d,#650806,#450000,#2e0000,#170000,#040000,#000000)"></i><i style="background:linear-gradient(#fffaaf,#fffaa9,#fff9a4,#fff99d,#fff997,#fff88f,#fff887,#fff77f,#fff676,#fff56d,#fff564,#fff45b,#fff352,#fff248,#fff23f,#fff136,#fff02c,#ffef23,#ffef1a,#ffed14,#ffe914,#fee614,#fee214,#fede14,#fdda14,#fdd414,#fdcf14,#fcc814,#fbc015,#fab917,#fab118,#f9a919,#f8a21a,#f79a1c,#f7931d,#f68d1e,#f5851f,#f57e1f,#f47720,#f37020,#f36a21,#f26421,#f25f21,#f15a22,#f15522,#f05023,#f04c23,#f04923,#ef4722,#ef4422,#ef4122,#ee3e21,#ed3921,#ed3420,#eb2b1f,#e8221e,#d8211c,#c22019,#a81a14,#8e110d,#660806,#450000,#2f0000,#170000,#040000,#000000)"></i><i style="background:linear-gradient(#fffab1,#fffaac,#fffaa6,#fff9a0,#fff999,#fff892,#fff88a,#fff782,#fff679,#fff670,#fff566,#fff45d,#fff354,#fff34b,#fff242,#fff138,#fff02f,#ffef26,#ffef1d,#ffee14,#ffea14,#fee714,#fee314,#fedf14,#fdda14,#fdd514,#fdcf14,#fcc914,#fbc215,#fbba16,#fab218,#f9ab19,#f8a31a,#f89c1b,#f7951d,#f68e1e,#f5861e,#f57f1f,#f47820,#f47120,#f36b21,#f26521,#f26021,#f15a22,#f15522,#f15123,#f04d23,#f04a23,#ef4723,#ef4422,#ef4122,#ee3e21,#ed3a21,#ed3420,#eb2b1f,#e8221e,#d8211c,#c22019,#a91a14,#8e120d,#660806,#450000,#2f0000,#170000,#040000,#000000)"></i><i style="background:linear-gradient(#fffab4,#fffaaf,#fffaa9,#fff9a3,#fff99c,#fff995,#fff88d,#fff784,#fff77c,#fff672,#fff569,#fff460,#fff457,#fff34e,#fff245,#fff13b,#fff032,#fff028,#ffef1f,#ffee16,#ffeb14,#ffe814,#fee414,#fee014,#fedb14,#fdd614,#fdd014,#fcca14,#fcc315,#fbbb16,#fab417,#f9ac19,#f8a51a,#f89d1b,#f7961c,#f68f1d,#f6881e,#f5801f,#f4791f,#f47220,#f36c20,#f26621,#f26021,#f15b22,#f15622,#f15222,#f04d23,#f04a23,#ef4723,#ef4422,#ef4122,#ee3e21,#ed3a21,#ed3420,#eb2c1f,#e8221e,#d8211c,#c22019,#a91b14,#8f120d,#670806,#460000,#2f0000,#170000,#040000,#000000)"></i><i style="background:linear-gradient(#fffbb6,#fffab1,#fffaab,#fffaa5,#fff99e,#fff997,#fff890,#fff887,#fff77e,#fff675,#fff56c,#fff563,#fff45a,#fff351,#fff247,#fff13e,#fff134,#fff02b,#ffef22,#ffee19,#ffec14,#ffe914,#fee514,#fee114,#fedc14,#fdd714,#fdd114,#fccb14,#fcc515,#fbbd16,#fab517,#f9ae18,#f9a61a,#f89f1b,#f7971c,#f6901d,#f6891e,#f5821f,#f47a1f,#f47320,#f36d20,#f36721,#f26121,#f25c22,#f15722,#f15222,#f04e23,#f04a23,#f04823,#ef4522,#ef4222,#ee3e21,#ee3a21,#ed3420,#eb2c1f,#e9221e,#d8211c,#c22019,#a91b14,#8f120d,#670806,#460000,#2f0000,#170000,#040000,#000000)"></i><i style="background:linear-gradient(#fffbb9,#fffab4,#fffaae,#fffaa8,#fff9a1,#fff99a,#fff892,#fff88a,#fff781,#fff678,#fff66f,#fff566,#fff45d,#fff354,#fff34a,#fff241,#fff137,#fff02e,#ffef24,#ffef1b,#ffed14,#ffea14,#fee614,#fee214,#fedd14,#fdd814,#fdd214,#fccc14,#fcc614,#fbbe16,#fab717,#faaf18,#f9a719,#f8a01b,#f7991c,#f7921d,#f68b1e,#f5831f,#f47c1f,#f47520,#f36e20,#f36821,#f26221,#f25d22,#f15822,#f15322,#f04f23,#f04b23,#f04823,#ef4522,#ef4222,#ee3f21,#ee3a21,#ed3420,#eb2c1f,#e9221e,#d8211c,#c22019,#aa1b14,#8f120d,#670806,#460100,#300000,#170000,#040000,#000000)"></i><i style="background:linear-gradient(#fffbbb,#fffbb6,#fffab0,#fffaaa,#fff9a4,#fff99d,#fff995,#fff88d,#fff784,#fff77b,#fff672,#fff569,#fff460,#fff456,#fff34d,#fff243,#fff13a,#fff030,#fff027,#ffef1e,#ffee15,#ffeb14,#fee714,#fee314,#fede14,#fdd914,#fdd314,#fccd14,#fcc714,#fbc015,#fab817,#fab018,#f9a919,#f8a11a,#f79a1c,#f7931d,#f68c1e,#f5841f,#f57d1f,#f47620,#f36f20,#f36921,#f26321,#f25d22,#f15822,#f15322,#f04f23,#f04b23,#f04823,#ef4522,#ef4222,#ee3f22,#ee3a21,#ed3520,#eb2c1f,#e9221e,#d8211c,#c32019,#aa1b14,#90120d,#680806,#470100,#300000,#170000,#040000,#000000)"></i><i style="background:linear-gradient(#fffbbe,#fffbb8,#fffab3,#fffaad,#fffaa6,#fff99f,#fff997,#fff88f,#fff887,#fff77e,#fff674,#fff56b,#fff562,#fff459,#fff34f,#fff246,#fff13c,#fff133,#fff029,#ffef20,#ffee17,#ffec14,#ffe814,#fee414,#fedf14,#fdda14,#fdd414,#fcce14,#fcc814,#fbc115,#fbb916,#fab218,#f9aa19,#f8a31a,#f89b1b,#f7941d,#f68d1e,#f5861e,#f57e1f,#f47720,#f37020,#f36a21,#f26421,#f25e22,#f15922,#f15422,#f05023,#f04b23,#f04923,#ef4622,#ef4322,#ee3f22,#ee3b21,#ed3520,#ec2c1f,#e9221e,#d9211c,#c32019,#aa1b14,#90120e,#680806,#470100,#300000,#170000,#040000,#000000)"></i><i style="background:linear-gradient(#fffbc0,#fffbbb,#fffbb5,#fffaaf,#fffaa9,#fff9a2,#fff99a,#fff892,#fff889,#fff780,#fff677,#fff66e,#fff565,#fff45c,#fff352,#fff248,#fff23f,#fff135,#fff02c,#ffef22,#ffee1a,#ffed14,#ffe914,#fee514,#fee014,#fddb14,#fdd514,#fdcf14,#fcc914,#fbc215,#fbbb16,#fab317,#f9ac19,#f8a41a,#f89d1b,#f7951c,#f68f1e,#f6871e,#f57f1f,#f47820,#f47120,#f36b21,#f26521,#f25f21,#f15a22,#f15522,#f05023,#f04c23,#f04923,#ef4622,#ef4322,#ee3f22,#ee3b21,#ed3520,#ec2d1f,#ea221e,#d9211c,#c32019,#aa1b14,#90120e,#680806,#470101,#300000,#170000,#040000,#000000)"></i><i style="background:linear-gradient(#fffbc2,#fffbbd,#fffbb8,#fffab2,#fffaab,#fff9a4,#fff99d,#fff994,#fff88c,#fff783,#fff67a,#fff671,#fff568,#fff45e,#fff355,#fff34b,#fff241,#fff138,#fff02e,#ffef25,#ffef1c,#ffee14,#ffea14,#fee614,#fee114,#fedc14,#fdd614,#fdd014,#fcca14,#fcc415,#fbbc16,#fab517,#f9ad19,#f9a51a,#f89e1b,#f7971c,#f6901d,#f6881e,#f5801f,#f4791f,#f47220,#f36c20,#f26621,#f26021,#f15a22,#f15522,#f15123,#f04c23,#f04923,#ef4622,#ef4322,#ee4022,#ee3b21,#ed3520,#ec2d1f,#ea221e,#d9211c,#c32019,#ab1b14,#91120e,#690806,#480101,#300000,#180000,#040000,#000000)"></i><i style="background:linear-gradient(#fffbc5,#fffbbf,#fffbba,#fffab4,#fffaae,#fffaa7,#fff99f,#fff997,#fff88f,#fff786,#fff77c,#fff673,#fff56a,#fff461,#fff457,#fff34e,#fff244,#fff13a,#fff030,#fff027,#ffef1e,#ffee16,#ffeb14,#fee614,#fee214,#fedd14,#fdd714,#fdd114,#fccb14,#fcc514,#fbbe16,#fab617,#f9ae18,#f9a71a,#f89f1b,#f7981c,#f6911d,#f68a1e,#f5821f,#f47a1f,#f47320,#f36d20,#f36621,#f26021,#f15b22,#f15622,#f15123,#f04d23,#f04923,#ef4622,#ef4322,#ee4022,#ee3b21,#ed3520,#ec2d1f,#ea221e,#d9211c,#c32019,#ab1b14,#91120e,#690806,#480101,#310000,#180000,#040000,#000000)"></i><i style="background:linear-gradient(#fffcc7,#fffbc2,#fffbbc,#fffbb7,#fffab0,#fffaa9,#fff9a1,#fff999,#fff891,#fff888,#fff77f,#fff676,#fff56d,#fff564,#fff45a,#fff350,#fff246,#fff13c,#fff133,#fff029,#ffef21,#ffee18,#ffec14,#fee714,#fee314,#fedd14,#fdd814,#fdd214,#fccc14,#fcc614,#fbbf16,#fab717,#fab018,#f9a819,#f8a01b,#f7991c,#f7921d,#f68b1e,#f5831f,#f47b1f,#f47420,#f36d20,#f36721,#f26121,#f25c22,#f15722,#f15222,#f04d23,#f04a23,#ef4722,#ef4422,#ee4022,#ee3b21,#ed3520,#ec2d1f,#ea221e,#d9211c,#c42019,#ab1b15,#91120e,#690906,#480101,#310000,#180000,#040000,#000000)"></i><i style="background:linear-gradient(#fffcc9,#fffbc4,#fffbbf,#fffbb9,#fffab2,#fffaab,#fff9a4,#fff99c,#fff893,#fff88b,#fff782,#fff679,#fff670,#fff566,#fff45c,#fff353,#fff249,#fff23f,#fff135,#fff02c,#ffef23,#ffee1a,#ffed14,#ffe814,#fee314,#fede14,#fdd914,#fdd314,#fccd14,#fcc814,#fbc015,#fab917,#fab118,#f9a919,#f8a21a,#f79a1c,#f7931d,#f68c1e,#f5841f,#f57c1f,#f47520,#f36e20,#f36821,#f26221,#f25c22,#f15722,#f15222,#f04e23,#f04a23,#ef4722,#ef4422,#ee4022,#ee3b21,#ed3620,#ec2d1f,#ea221e,#d9211c,#c42019,#ac1b15,#91130e,#6a0906,#480101,#310000,#180000,#040000,#000000)"></i><i style="background:linear-gradient(#fffccb,#fffcc6,#fffbc1,#fffbbb,#fffab5,#fffaae,#fffaa6,#fff99e,#fff996,#fff88d,#fff784,#fff77b,#fff672,#fff569,#fff45f,#fff355,#fff34b,#fff241,#fff137,#fff02e,#ffef25,#ffef1c,#ffed14,#ffe914,#fee414,#fedf14,#fdd914,#fdd414,#fcce14,#fcc914,#fbc115,#fbba16,#fab218,#f9aa19,#f8a31a,#f89b1b,#f7941d,#f68d1e,#f5851f,#f57d1f,#f47620,#f36f20,#f36921,#f26321,#f25d22,#f15822,#f15322,#f04e23,#f04a23,#ef4723,#ef4422,#ee4022,#ee3c21,#ed3620,#ec2d1f,#ea231e,#d9211c,#c42019,#ac1c15,#92130e,#6a0907,#490101,#310000,#180000,#040000,#000000)"></i><i style="background:linear-gradient(#fffccd,#fffcc8,#fffbc3,#fffbbd,#fffbb7,#fffab0,#fffaa9,#fff9a1,#fff998,#fff890,#fff887,#fff77e,#fff675,#fff56b,#fff461,#fff457,#fff34d,#fff243,#fff13a,#fff030,#fff027,#ffef1e,#ffee15,#ffea14,#fee514,#fee014,#fdda14,#fdd414,#fdcf14,#fcca14,#fbc315,#fbbb16,#fab317,#f9ac19,#f8a41a,#f89d1b,#f7951c,#f68e1e,#f5861e,#f57e1f,#f47720,#f37020,#f36a21,#f26321,#f25e22,#f15822,#f15422,#f04f23,#f04a23,#ef4723,#ef4422,#ee4122,#ee3c21,#ed3620,#ec2e1f,#ea231e,#da211c,#c42019,#ac1c15,#92130e,#6b0907,#490101,#310000,#180000,#040000,#000000)"></i><i style="background:linear-gradient(#fffccf,#fffcca,#fffbc5,#fffbc0,#fffbb9,#fffab2,#fffaab,#fff9a3,#fff99b,#fff892,#fff889,#fff780,#fff677,#fff56e,#fff564,#fff45a,#fff350,#fff246,#fff13c,#fff132,#fff029,#ffef20,#ffee17,#ffeb14,#fee614,#fee114,#fedb14,#fdd514,#fdd014,#fcca14,#fcc415,#fbbc16,#fab517,#f9ad19,#f9a51a,#f89e1b,#f7961c,#f68f1d,#f6871e,#f57f1f,#f47820,#f47120,#f36a21,#f26421,#f25e22,#f15922,#f15422,#f04f23,#f04b23,#ef4823,#ef4522,#ef4122,#ee3c21,#ed3620,#ec2e1f,#ea231e,#da211c,#c42019,#ac1c15,#92130e,#6b0907,#490101,#310000,#180000,#040000,#000000)"></i><i style="background:linear-gradient(#fffcd1,#fffccd,#fffcc7,#fffbc2,#fffbbb,#fffab5,#fffaad,#fffaa5,#fff99d,#fff994,#fff88c,#fff783,#fff679,#fff670,#fff566,#fff45c,#fff352,#fff248,#fff23e,#fff134,#fff02b,#ffef22,#ffee19,#ffec14,#fee714,#fee114,#fedc14,#fdd614,#fdd014,#fccb14,#fcc514,#fbbe16,#fab617,#f9ae18,#f9a61a,#f89f1b,#f7981c,#f6901d,#f6891e,#f5801f,#f4791f,#f47220,#f36b21,#f26521,#f25f21,#f15a22,#f15522,#f05023,#f04b23,#f04823,#ef4522,#ef4122,#ee3c21,#ed3620,#ec2e1f,#ea231e,#da211c,#c42019,#ad1c15,#92130e,#6b0907,#4a0101,#320000,#180000,#040000,#000000)"></i><i style="background:linear-gradient(#fffcd3,#fffcce,#fffcc9,#fffbc4,#fffbbe,#fffbb7,#fffaaf,#fffaa7,#fff99f,#fff997,#fff88e,#fff785,#fff77c,#fff672,#fff568,#fff45e,#fff354,#fff34a,#fff240,#fff136,#fff02d,#ffef24,#ffef1a,#ffec14,#fee714,#fee214,#fedd14,#fdd714,#fdd114,#fccc14,#fcc614,#fbbf16,#fab717,#faaf18,#f9a819,#f8a01b,#f7991c,#f7911d,#f68a1e,#f5821f,#f47a1f,#f47320,#f36c20,#f26621,#f26021,#f15a22,#f15522,#f05023,#f04b23,#f04823,#ef4522,#ef4122,#ee3c21,#ed3620,#ec2e1f,#ea231e,#da211c,#c42019,#ad1c15,#93130e,#6c0907,#4a0101,#320000,#180000,#040000,#000000)"></i><i style="background:linear-gradient(#fffcd5,#fffcd0,#fffccb,#fffcc6,#fffbc0,#fffbb9,#fffab1,#fffaaa,#fff9a1,#fff999,#fff890,#fff887,#fff77e,#fff675,#fff56b,#fff461,#fff456,#fff34c,#fff242,#fff138,#fff02f,#ffef26,#ffef1c,#ffed14,#ffe814,#fee314,#fedd14,#fdd814,#fdd214,#fccd14,#fcc814,#fbc015,#fab817,#fab118,#f9a919,#f8a11a,#f79a1c,#f7921d,#f68b1e,#f5831f,#f47b1f,#f47420,#f36d20,#f36621,#f26021,#f15b22,#f15622,#f15123,#f04c23,#f04823,#ef4522,#ef4122,#ee3c21,#ed3620,#ec2e1f,#ea231e,#da211c,#c52019,#ad1c15,#93130e,#6c0907,#4a0101,#320000,#180000,#040000,#000000)"></i><i style="background:linear-gradient(#fffdd7,#fffcd2,#fffccd,#fffcc8,#fffbc2,#fffbbb,#fffab3,#fffaac,#fff9a3,#fff99b,#fff892,#fff88a,#fff780,#fff677,#fff56d,#fff563,#fff459,#fff34e,#fff244,#fff13a,#fff031,#fff027,#ffef1e,#ffee14,#ffe914,#fee414,#fede14,#fdd814,#fdd314,#fcce14,#fcc914,#fbc115,#fbb916,#fab218,#f9aa19,#f8a21a,#f79b1c,#f7931d,#f68c1e,#f5841f,#f57c1f,#f47520,#f36e20,#f36721,#f26121,#f25b22,#f15622,#f15123,#f04c23,#f04823,#ef4522,#ef4222,#ee3d21,#ed3620,#ec2e1f,#ea231e,#da211c,#c52019,#ad1c15,#93130e,#6c0907,#4b0101,#320000,#180000,#040000,#000000)"></i><i style="background:linear-gradient(#fffdd9,#fffcd4,#fffccf,#fffcca,#fffbc4,#fffbbd,#fffbb5,#fffaae,#fffaa6,#fff99d,#fff995,#fff88c,#fff783,#fff679,#fff66f,#fff565,#fff45b,#fff350,#fff246,#fff13c,#fff133,#fff029,#ffef20,#ffee15,#ffe914,#fee414,#fedf14,#fdd914,#fdd414,#fdce14,#fcc914,#fbc215,#fbbb16,#fab318,#f9ab19,#f8a31a,#f89c1b,#f7941d,#f68d1e,#f5851f,#f57d1f,#f47520,#f36e20,#f36821,#f26121,#f25c22,#f15722,#f15222,#f04d23,#f04923,#ef4622,#ef4222,#ee3d21,#ed3721,#ec2e20,#ea231e,#da211c,#c52019,#ad1c15,#93130e,#6d0907,#4b0201,#320000,#190000,#040000,#000000)"></i><i style="background:linear-gradient(#fffdda,#fffcd6,#fffcd1,#fffccc,#fffbc5,#fffbbf,#fffbb7,#fffab0,#fffaa8,#fff99f,#fff997,#fff88e,#fff785,#fff77b,#fff671,#fff567,#fff45d,#fff352,#fff248,#fff23e,#fff135,#fff02b,#ffef21,#ffee17,#ffea14,#fee514,#fedf14,#fdda14,#fdd414,#fdcf14,#fcca14,#fcc315,#fbbc16,#fab417,#f9ac19,#f8a41a,#f89d1b,#f7951c,#f68e1e,#f5861e,#f57e1f,#f47620,#f36f20,#f36821,#f26221,#f25c22,#f15722,#f15222,#f04d23,#f04923,#ef4622,#ef4222,#ee3d21,#ed3721,#ec2f20,#ea241e,#da211c,#c52019,#ae1c15,#94130e,#6d0907,#4b0201,#330000,#190000,#040000,#000000)"></i><i style="background:linear-gradient(#fffddc,#fffdd8,#fffcd3,#fffccd,#fffcc7,#fffbc1,#fffbb9,#fffab2,#fffaaa,#fff9a1,#fff999,#fff890,#fff887,#fff77e,#fff674,#fff569,#fff45f,#fff354,#fff34a,#fff240,#fff136,#fff02d,#ffef23,#ffee18,#ffeb14,#fee514,#fee014,#fdda14,#fdd514,#fdd014,#fccb14,#fcc515,#fbbd16,#fab517,#f9ad18,#f9a61a,#f89e1b,#f7961c,#f68f1e,#f5871e,#f57f1f,#f47720,#f37020,#f36921,#f26321,#f25d22,#f15822,#f15322,#f04d23,#f04923,#ef4622,#ef4222,#ee3d21,#ed3721,#ec2f20,#ea241e,#da211c,#c52019,#ae1c15,#94130f,#6d0907,#4b0201,#330000,#190000,#040000,#000000)"></i><i style="background:linear-gradient(#fffdde,#fffdd9,#fffcd4,#fffccf,#fffcc9,#fffbc2,#fffbbb,#fffab4,#fffaac,#fff9a3,#fff99b,#fff892,#fff889,#fff780,#fff676,#fff56b,#fff461,#fff456,#fff34c,#fff242,#fff138,#fff02e,#ffef24,#ffee1a,#ffeb14,#fee614,#fee114,#fedb14,#fdd614,#fdd114,#fccc14,#fcc614,#fbbe16,#fab617,#f9ae18,#f9a71a,#f89f1b,#f7971c,#f68f1d,#f6881e,#f5801f,#f47820,#f37120,#f36a21,#f26321,#f25e22,#f15822,#f15322,#f04e23,#f04923,#ef4622,#ef4222,#ee3d21,#ed3721,#ec2f20,#ea241e,#da211c,#c52019,#ae1c15,#94130f,#6e0a07,#4c0201,#330000,#190000,#040000,#000000)"></i><i style="background:linear-gradient(#fffddf,#fffddb,#fffdd6,#fffcd1,#fffccb,#fffbc4,#fffbbd,#fffbb5,#fffaad,#fffaa5,#fff99d,#fff894,#fff88b,#fff782,#fff678,#fff56d,#fff563,#fff458,#fff34e,#fff244,#fff13a,#fff030,#ffef26,#ffef1b,#ffec14,#fee714,#fee114,#fedc14,#fdd614,#fdd114,#fccc14,#fcc714,#fbbf15,#fab717,#faaf18,#f9a819,#f8a01b,#f7981c,#f6901d,#f6881e,#f5801f,#f4791f,#f47120,#f36a21,#f26421,#f25e22,#f15922,#f15422,#f04e23,#f04a23,#ef4622,#ef4222,#ee3d21,#ed3721,#ec2f20,#ea241e,#db211c,#c52019,#ae1c15,#94130f,#6e0a07,#4c0201,#330000,#190000,#040000,#000000)"></i><i style="background:linear-gradient(#fffde1,#fffddc,#fffdd7,#fffcd2,#fffccc,#fffcc6,#fffbbf,#fffbb7,#fffaaf,#fffaa7,#fff99f,#fff996,#fff88d,#fff784,#fff67a,#fff66f,#fff565,#fff45a,#fff350,#fff245,#fff13b,#fff031,#fff027,#ffef1c,#ffec14,#fee714,#fee214,#fedc14,#fdd714,#fdd214,#fccd14,#fcc814,#fbc015,#fab817,#fab018,#f9a919,#f8a11b,#f7991c,#f7911d,#f6891e,#f5811f,#f47a1f,#f47220,#f36b21,#f26521,#f25f21,#f15922,#f15422,#f04f23,#f04a23,#ef4722,#ef4222,#ee3d21,#ed3721,#ec2f20,#ea241e,#db211c,#c5211a,#ae1c15,#94140f,#6e0a07,#4c0201,#330000,#190000,#040000,#000000)"></i><i style="background:linear-gradient(#fffde2,#fffdde,#fffdd9,#fffcd4,#fffcce,#fffcc7,#fffbc0,#fffbb9,#fffab1,#fffaa9,#fff9a0,#fff998,#fff88f,#fff786,#fff77c,#fff671,#fff566,#fff45c,#fff351,#fff247,#fff13d,#fff133,#fff029,#ffef1e,#ffed14,#ffe814,#fee214,#fedd14,#fdd814,#fdd314,#fcce14,#fcc914,#fbc115,#fbb916,#fab118,#f9aa19,#f8a21a,#f79a1c,#f7921d,#f68a1e,#f5821f,#f47a1f,#f47320,#f36c20,#f26521,#f25f21,#f15a22,#f15422,#f04f23,#f04a23,#ef4722,#ef4322,#ee3d21,#ed3721,#ec2f20,#ea241e,#db211c,#c5211a,#af1c15,#95140f,#6f0a07,#4d0201,#330000,#190000,#040000,#000000)"></i><i style="background:linear-gradient(#fffde3,#fffddf,#fffdda,#fffcd5,#fffccf,#fffcc9,#fffbc2,#fffbba,#fffab3,#fffaab,#fff9a2,#fff99a,#fff891,#fff888,#fff77d,#fff673,#fff568,#fff45e,#fff353,#fff249,#fff23e,#fff134,#fff02a,#ffef1f,#ffed14,#ffe814,#fee314,#fedd14,#fdd814,#fdd314,#fdce14,#fcc914,#fbc215,#fbba16,#fab218,#f9ab19,#f8a31a,#f79b1c,#f7931d,#f68b1e,#f5831f,#f47b1f,#f47420,#f36c20,#f26621,#f26021,#f15a22,#f15522,#f04f23,#f04a23,#ef4722,#ef4322,#ee3d21,#ed3721,#ec2f20,#ea241e,#db211c,#c5211a,#af1c15,#95140f,#6f0a07,#4d0202,#330000,#190000,#040000,#000000)"></i><i style="background:linear-gradient(#fffde4,#fffde0,#fffddc,#fffdd7,#fffcd1,#fffcca,#fffbc3,#fffbbc,#fffab4,#fffaac,#fff9a4,#fff99b,#fff893,#fff889,#fff77f,#fff675,#fff56a,#fff45f,#fff355,#fff34a,#fff240,#fff135,#fff02b,#ffef20,#ffee14,#ffe914,#fee314,#fede14,#fdd914,#fdd414,#fdcf14,#fcca14,#fcc315,#fbbb16,#fab317,#f9ac19,#f8a41a,#f89c1b,#f7941d,#f68c1e,#f5841f,#f57c1f,#f47420,#f36d20,#f36621,#f26021,#f15b22,#f15522,#f05023,#f04a23,#ef4723,#ef4322,#ee3e21,#ed3721,#ec2f20,#ea241e,#db211c,#c6211a,#af1d15,#95140f,#6f0a07,#4d0202,#340000,#190000,#040000,#000000)"></i><i style="background:linear-gradient(#fffde5,#fffde1,#fffddd,#fffdd8,#fffcd2,#fffccc,#fffbc5,#fffbbe,#fffbb6,#fffaae,#fffaa6,#fff99d,#fff994,#fff88b,#fff781,#fff676,#fff56c,#fff461,#fff456,#fff34b,#fff241,#fff137,#fff02c,#ffef21,#ffee15,#ffe914,#fee414,#fede14,#fdd914,#fdd414,#fdd014,#fccb14,#fcc415,#fbbc16,#fab417,#f9ac19,#f8a41a,#f89c1b,#f7941d,#f68d1e,#f5851f,#f57d1f,#f47520,#f36e20,#f36721,#f26121,#f15b22,#f15622,#f05023,#f04a23,#ef4723,#ef4322,#ee3e21,#ed3721,#ec2f20,#ea241e,#db211c,#c6211a,#af1d15,#95140f,#700a08,#4e0202,#340000,#190000,#040000,#000000)"></i><i style="background:linear-gradient(#fffee7,#fffde2,#fffdde,#fffdd9,#fffcd3,#fffccd,#fffcc6,#fffbbf,#fffbb7,#fffaaf,#fffaa7,#fff99f,#fff996,#fff88d,#fff783,#fff678,#fff56d,#fff562,#fff458,#fff34d,#fff242,#fff138,#fff02d,#ffef22,#ffee16,#ffe914,#fee414,#fedf14,#fdda14,#fdd514,#fdd014,#fccb14,#fcc515,#fbbd16,#fab517,#f9ad18,#f9a51a,#f89d1b,#f7951c,#f68e1e,#f5861e,#f57d1f,#f47620,#f36e20,#f36821,#f26121,#f25c22,#f15622,#f05023,#f04b23,#ef4723,#ef4322,#ee3e21,#ed3721,#ec2f20,#ea241e,#db211c,#c6211a,#af1d15,#95140f,#700a08,#4e0202,#340000,#190000,#040000,#000000)"></i><i style="background:linear-gradient(#fffee7,#fffde3,#fffddf,#fffdda,#fffcd4,#fffcce,#fffcc7,#fffbc0,#fffbb9,#fffab1,#fffaa9,#fff9a0,#fff998,#fff88f,#fff784,#fff67a,#fff66f,#fff564,#fff459,#fff34e,#fff243,#fff139,#fff02e,#ffef23,#ffee17,#ffea14,#fee514,#fedf14,#fdda14,#fdd614,#fdd114,#fccc14,#fcc614,#fbbe16,#fab617,#f9ae18,#f9a61a,#f89e1b,#f7961c,#f68e1e,#f5861e,#f57e1f,#f47620,#f36f20,#f36821,#f26221,#f25c22,#f15622,#f15123,#f04b23,#ef4723,#ef4322,#ee3e21,#ed3721,#ec2f20,#ea241e,#db211c,#c6211a,#af1d15,#95140f,#710a08,#4e0202,#340000,#190000,#040000,#000000)"></i><i style="background:linear-gradient(#fffee8,#fffde4,#fffde0,#fffddb,#fffcd5,#fffccf,#fffcc8,#fffbc2,#fffbba,#fffab2,#fffaaa,#fff9a2,#fff999,#fff890,#fff886,#fff77b,#fff670,#fff565,#fff45a,#fff34f,#fff245,#fff13a,#fff02f,#ffef23,#ffee17,#ffea14,#fee514,#fee014,#fddb14,#fdd614,#fdd114,#fccc14,#fcc714,#fbbf16,#fab717,#faaf18,#f9a719,#f89f1b,#f7971c,#f68f1d,#f6871e,#f57f1f,#f47720,#f37020,#f36921,#f26221,#f25d22,#f15722,#f15123,#f04b23,#ef4723,#ef4322,#ee3e21,#ed3721,#ec2f20,#ea251e,#db211c,#c6211a,#af1d16,#95140f,#710a08,#4f0202,#340000,#1a0000,#040000,#000000)"></i><i style="background:linear-gradient(#fffee9,#fffde5,#fffde1,#fffddc,#fffdd6,#fffcd0,#fffcca,#fffbc3,#fffbbb,#fffab4,#fffaac,#fff9a3,#fff99b,#fff892,#fff888,#fff77d,#fff672,#fff567,#fff45c,#fff351,#fff246,#fff13b,#fff030,#ffef24,#ffee18,#ffea14,#fee514,#fee014,#fedb14,#fdd714,#fdd214,#fccd14,#fcc814,#fbc015,#fab817,#fab018,#f9a819,#f8a01b,#f7981c,#f6901d,#f6881e,#f5801f,#f47820,#f37020,#f36921,#f26321,#f25d22,#f15722,#f15123,#f04b23,#ef4823,#ef4322,#ee3e21,#ed3721,#ec2f20,#ea251e,#db211c,#c6211a,#af1d16,#95140f,#710a08,#4f0302,#340000,#1a0000,#040000,#000000)"></i><i style="background:linear-gradient(#fffeea,#fffde6,#fffde1,#fffddd,#fffdd7,#fffcd1,#fffccb,#fffbc4,#fffbbd,#fffab5,#fffaad,#fffaa5,#fff99c,#fff893,#fff889,#fff77e,#fff673,#fff568,#fff45d,#fff352,#fff247,#fff13c,#fff030,#ffef25,#ffee19,#ffeb14,#fee614,#fee014,#fedc14,#fdd714,#fdd214,#fcce14,#fcc814,#fbc115,#fab917,#fab118,#f9a919,#f8a11b,#f7981c,#f6911d,#f6891e,#f5801f,#f4791f,#f47120,#f36a21,#f26321,#f25d22,#f15822,#f15222,#f04b23,#f04823,#ef4322,#ee3e21,#ed3821,#ec2f20,#ea251e,#db211c,#c6211a,#af1d16,#96140f,#720a08,#4f0302,#340000,#1a0000,#040000,#000000)"></i><i style="background:linear-gradient(#fffeea,#fffee6,#fffde2,#fffddd,#fffdd8,#fffcd2,#fffccb,#fffbc5,#fffbbe,#fffbb6,#fffaae,#fffaa6,#fff99e,#fff995,#fff88b,#fff780,#fff674,#fff569,#fff45e,#fff353,#fff248,#fff13c,#fff031,#ffef25,#ffee19,#ffeb14,#fee614,#fee114,#fedc14,#fdd714,#fdd314,#fcce14,#fcc914,#fbc215,#fbba16,#fab218,#f9aa19,#f8a11a,#f7991c,#f7911d,#f68a1e,#f5811f,#f4791f,#f47220,#f36a21,#f26421,#f25e22,#f15822,#f15222,#f04c23,#f04823,#ef4322,#ee3e21,#ed3821,#ec3020,#ea251e,#db211c,#c6211a,#af1d16,#96140f,#720a08,#500302,#350000,#1a0000,#040000,#000000)"></i><i style="background:linear-gradient(#fffeeb,#fffee7,#fffde2,#fffdde,#fffdd8,#fffcd2,#fffccc,#fffcc6,#fffbbf,#fffbb7,#fffab0,#fffaa7,#fff99f,#fff996,#fff88c,#fff781,#fff676,#fff56a,#fff45f,#fff354,#fff248,#fff13d,#fff032,#ffef26,#ffee1a,#ffeb14,#fee614,#fee114,#fedc14,#fdd814,#fdd314,#fdcf14,#fcc914,#fbc215,#fbba16,#fab218,#f9aa19,#f8a21a,#f79a1c,#f7921d,#f68a1e,#f5821f,#f47a1f,#f47220,#f36b21,#f26421,#f25e22,#f15822,#f15222,#f04c23,#f04823,#ef4322,#ee3e21,#ed3821,#ec3020,#ea251e,#db211c,#c6211a,#b01d16,#96140f,#720b08,#500302,#350000,#1a0000,#040000,#000000)"></i><i style="background:linear-gradient(#fffeeb,#fffee7,#fffde3,#fffdde,#fffdd9,#fffcd3,#fffccd,#fffcc7,#fffbc0,#fffbb8,#fffab1,#fffaa9,#fff9a0,#fff997,#fff88d,#fff782,#fff677,#fff56c,#fff460,#fff355,#fff249,#fff13e,#fff132,#fff026,#ffee1a,#ffeb14,#fee614,#fee114,#fedc14,#fdd814,#fdd414,#fdcf14,#fcca14,#fcc315,#fbbb16,#fab317,#f9ab19,#f8a31a,#f79b1c,#f7931d,#f68b1e,#f5831f,#f47b1f,#f47320,#f36c20,#f26521,#f25f21,#f15922,#f15222,#f04c23,#f04823,#ef4322,#ee3e21,#ed3821,#ec3020,#ea251e,#db211c,#c6211a,#b01d16,#96140f,#730b08,#500302,#350000,#1a0000,#040000,#000000)"></i><i style="background:linear-gradient(#fffeec,#fffee8,#fffde3,#fffdde,#fffdd9,#fffcd4,#fffcce,#fffcc7,#fffbc1,#fffbb9,#fffab2,#fffaaa,#fff9a1,#fff998,#fff88e,#fff783,#fff678,#fff56d,#fff461,#fff356,#fff24a,#fff23e,#fff132,#fff026,#ffef1a,#ffeb14,#fee614,#fee114,#fedd14,#fdd914,#fdd414,#fdd014,#fcca14,#fcc415,#fbbc16,#fab417,#f9ac19,#f8a41a,#f89b1b,#f7931d,#f68c1e,#f5831f,#f47b1f,#f47320,#f36c20,#f26521,#f25f21,#f15922,#f15322,#f04c23,#f04823,#ef4322,#ee3e21,#ed3821,#ec3020,#ea251e,#db211c,#c6211a,#b01d16,#96140f,#730b08,#510302,#350000,#1a0000,#040000,#000000)"></i><i style="background:linear-gradient(#fffeec,#fffee8,#fffde3,#fffddf,#fffdd9,#fffcd4,#fffcce,#fffcc8,#fffbc1,#fffbba,#fffab3,#fffaab,#fff9a3,#fff999,#fff88f,#fff785,#fff679,#fff56e,#fff562,#fff456,#fff34a,#fff23e,#fff133,#fff027,#ffef1a,#ffeb14,#fee614,#fee114,#fedd14,#fdd914,#fdd514,#fdd014,#fccb14,#fcc415,#fbbd16,#fab517,#f9ad19,#f8a41a,#f89c1b,#f7941d,#f68c1e,#f5841f,#f57c1f,#f47420,#f36d20,#f26621,#f26021,#f15922,#f15322,#f04c23,#f04823,#ef4422,#ee3e21,#ed3821,#ec3020,#ea251e,#db211c,#c6211a,#b01d16,#96140f,#730b08,#510302,#350000,#1a0000,#040000,#000000)"></i><i style="background:linear-gradient(#fffeec,#fffee8,#fffde3,#fffddf,#fffdda,#fffcd4,#fffccf,#fffcc9,#fffbc2,#fffbbb,#fffab4,#fffaac,#fff9a4,#fff99b,#fff891,#fff786,#fff77a,#fff66e,#fff563,#fff457,#fff34b,#fff23f,#fff133,#fff027,#ffef1a,#ffeb14,#fee614,#fee214,#fedd14,#fdd914,#fdd514,#fdd014,#fccb14,#fcc514,#fbbd16,#fab617,#f9ad18,#f8a51a,#f89d1b,#f7951d,#f68d1e,#f5851f,#f57c1f,#f47520,#f36d20,#f36621,#f26021,#f15a22,#f15322,#f04d23,#f04823,#ef4422,#ee3e21,#ed3821,#ec3020,#ea251e,#db211c,#c6211a,#b01d16,#96140f,#740b08,#510302,#350000,#1a0000,#040000,#000000)"></i></div><div class="hm" style="left:324px;top:59px;width:196px;height:196px"><i style="background:linear-gradient(#510302,#510302,#510302,#510302,#510302,#510302,#510302,#510302,#510302,#510302,#510302,#510302,#510302,#510302,#510302,#510302,#510302,#510302,#510302,#510302,#510302,#510302,#510302,#510302,#510302,#510302,#510302,#510302,#510302,#510302,#510302,#510302,#510302,#510302,#510302,#510302,#510302,#510302,#510302,#510302,#510302,#510302,#510302,#510302,#510302,#510302,#510302,#500302,#4f0302,#4e0202,#4e0202,#4d0202,#4c0201,#4a0101,#450000,#410000,#3d0000,#390000,#380000,#380000,#380000,#380000,#380000,#380000,#390000,#3a0000)"></i><i style="background:linear-gradient(#6b0907,#6b0907,#6b0907,#6b0907,#6b0907,#6b0907,#6b0907,#6b0907,#6b0907,#6b0907,#6b0907,#6b0907,#6b0907,#6b0907,#6b0907,#6b0907,#6b0907,#6b0907,#6b0907,#6b0907,#6b0907,#6b0907,#6b0907,#6b0907,#6b0907,#6b0907,#6b0907,#6b0907,#6b0907,#6b0907,#6b0907,#6b0907,#6b0907,#6b0907,#6b0907,#6b0907,#6b0907,#6b0907,#6b0907,#6b0907,#6b0907,#6b0907,#6b0907,#6b0907,#6b0907,#6b0907,#6b0907,#690906,#670806,#650806,#630705,#610705,#5f0605,#5a0504,#520302,#4a0101,#440000,#3e0000,#3b0000,#3c0000,#3c0000,#3c0000,#3c0000,#3b0000,#3f0000,#410000)"></i><i style="background:linear-gradient(#7c0d0a,#7c0d0a,#7c0d0a,#7c0d0a,#7c0d0a,#7c0d0a,#7c0d0a,#7c0d0a,#7c0d0a,#7c0d0a,#7c0d0a,#7c0d0a,#7c0d0a,#7c0d0a,#7c0d0a,#7c0d0a,#7c0d0a,#7c0d0a,#7c0d0a,#7c0d0a,#7c0d0a,#7c0d0a,#7c0d0a,#7c0d0a,#7c0d0a,#7c0d0a,#7c0d0a,#7c0d0a,#7c0d0a,#7c0d0a,#7c0d0a,#7c0d0a,#7c0d0a,#7c0d0a,#7c0d0a,#7c0d0a,#7c0d0a,#7c0d0a,#7c0d0a,#7c0d0a,#7c0d0a,#7c0d0a,#7c0d0a,#7c0d0a,#7c0d0a,#7c0d0a,#7c0d0a,#790c09,#770c09,#740b08,#720a08,#6f0a07,#6d0907,#670806,#5c0504,#520302,#4a0101,#430000,#410000,#400000,#400000,#400000,#400000,#410000,#470100,#490101)"></i><i style="background:linear-gradient(#870f0b,#870f0b,#870f0b,#870f0b,#870f0b,#870f0b,#870f0b,#870f0b,#870f0b,#870f0b,#870f0b,#870f0b,#870f0b,#870f0b,#870f0b,#870f0b,#870f0b,#870f0b,#870f0b,#870f0b,#870f0b,#870f0b,#870f0b,#870f0b,#870f0b,#870f0b,#870f0b,#870f0b,#870f0b,#870f0b,#870f0b,#870f0b,#870f0b,#870f0b,#870f0b,#870f0b,#870f0b,#870f0b,#870f0b,#870f0b,#870f0b,#870f0b,#870f0b,#870f0b,#870f0b,#870f0b,#870f0b,#840f0b,#820e0b,#7f0e0a,#7d0d0a,#7b0c09,#780c09,#710a08,#640705,#570403,#510302,#4c0201,#490101,#460000,#450000,#450000,#460100,#490101,#4f0302,#500302)"></i><i style="background:linear-gradient(#8f120d,#8f120d,#8f120d,#8f120d,#8f120d,#8f120d,#8f120d,#8f120d,#8f120d,#8f120d,#8f120d,#8f120d,#8f120d,#8f120d,#8f120d,#8f120d,#8f120d,#8f120d,#8f120d,#8f120d,#8f120d,#8f120d,#8f120d,#8f120d,#8f120d,#8f120d,#8f120d,#8f120d,#8f120d,#8f120d,#8f120d,#8f120d,#8f120d,#8f120d,#8f120d,#8f120d,#8f120d,#8f120d,#8f120d,#8f120d,#8f120d,#8f120d,#8f120d,#8f120d,#8f120d,#8f120d,#8f120d,#8d110d,#8c110c,#8a100c,#880f0c,#850f0b,#830e0b,#7b0d09,#6c0907,#5e0604,#580503,#550403,#510302,#4c0201,#4c0201,#4c0201,#4d0202,#530303,#590504,#580403)"></i><i style="background:linear-gradient(#97140f,#97140f,#97140f,#97140f,#97140f,#97140f,#97140f,#97140f,#97140f,#97140f,#97140f,#97140f,#97140f,#97140f,#97140f,#97140f,#97140f,#97140f,#97140f,#97140f,#97140f,#97140f,#97140f,#97140f,#97140f,#97140f,#97140f,#97140f,#97140f,#97140f,#97140f,#97140f,#97140f,#97140f,#97140f,#97140f,#97140f,#97140f,#97140f,#97140f,#97140f,#97140f,#97140f,#97140f,#97140f,#97140f,#96140f,#95140f,#93130e,#92130e,#90120e,#8f120d,#8d110d,#860f0b,#770c09,#680806,#610705,#5b0504,#570403,#520302,#510302,#510302,#530303,#5b0504,#630705,#610705)"></i><i style="background:linear-gradient(#9e1711,#9e1711,#9e1711,#9e1711,#9e1711,#9e1711,#9e1711,#9e1711,#9e1711,#9e1711,#9e1711,#9e1711,#9e1711,#9e1711,#9e1711,#9e1711,#9e1711,#9e1711,#9e1711,#9e1711,#9e1711,#9e1711,#9e1711,#9e1711,#9e1711,#9e1711,#9e1711,#9e1711,#9e1711,#9e1711,#9e1711,#9e1711,#9e1711,#9e1711,#9e1711,#9e1711,#9e1711,#9e1711,#9e1711,#9e1711,#9e1711,#9e1711,#9e1711,#9e1711,#9e1711,#9e1711,#9e1711,#9d1611,#9b1610,#991510,#981510,#96140f,#95140f,#8f120d,#830e0b,#740b08,#6b0907,#620705,#5c0604,#580503,#570403,#570403,#590504,#630705,#6e0a07,#6c0907)"></i><i style="background:linear-gradient(#a71a13,#a71a13,#a71a13,#a71a13,#a71a13,#a71a13,#a71a13,#a71a13,#a71a13,#a71a13,#a71a13,#a71a13,#a71a13,#a71a13,#a71a13,#a71a13,#a71a13,#a71a13,#a71a13,#a71a13,#a71a13,#a71a13,#a71a13,#a71a13,#a71a13,#a71a13,#a71a13,#a71a13,#a71a13,#a71a13,#a71a13,#a71a13,#a71a13,#a71a13,#a71a13,#a71a13,#a71a13,#a71a13,#a71a13,#a71a13,#a71a13,#a71a13,#a71a13,#a71a13,#a71a13,#a71a13,#a71a13,#a51913,#a31913,#a21812,#a01812,#9f1711,#9d1711,#981510,#8e110d,#810e0a,#750b08,#6a0906,#620705,#5e0604,#5d0604,#5d0604,#600605,#6d0907,#790c09,#770c09)"></i><i style="background:linear-gradient(#b01d16,#b01d16,#b01d16,#b01d16,#b01d16,#b01d16,#b01d16,#b01d16,#b01d16,#b01d16,#b01d16,#b01d16,#b01d16,#b01d16,#b01d16,#b01d16,#b01d16,#b01d16,#b01d16,#b01d16,#b01d16,#b01d16,#b01d16,#b01d16,#b01d16,#b01d16,#b01d16,#b01d16,#b01d16,#b01d16,#b01d16,#b01d16,#b01d16,#b01d16,#b01d16,#b01d16,#b01d16,#b01d16,#b01d16,#b01d16,#b01d16,#b01d16,#b01d16,#b01d16,#b01d16,#b01d16,#b01d16,#ae1c15,#ad1c15,#ab1b14,#a91b14,#a81a14,#a61a13,#a11812,#97140f,#8d110d,#810e0b,#740b08,#6b0907,#640705,#630705,#640706,#690906,#780c09,#840f0b,#820e0b)"></i><i style="background:linear-gradient(#ba2018,#ba2018,#ba2018,#ba2018,#ba2018,#ba2018,#ba2018,#ba2018,#ba2018,#ba2018,#ba2018,#ba2018,#ba2018,#ba2018,#ba2018,#ba2018,#ba2018,#ba2018,#ba2018,#ba2018,#ba2018,#ba2018,#ba2018,#ba2018,#ba2018,#ba2018,#ba2018,#ba2018,#ba2018,#ba2018,#ba2018,#ba2018,#ba2018,#ba2018,#ba2018,#ba2018,#ba2018,#ba2018,#ba2018,#ba2018,#ba2018,#ba2018,#ba2018,#ba2018,#ba2018,#ba2018,#ba2018,#b82018,#b71f17,#b51f17,#b41e17,#b21e16,#b11d16,#ab1b14,#a01712,#95140f,#8b100c,#7e0d0a,#730b08,#6a0906,#690806,#6c0907,#730b08,#840f0b,#8e110d,#8d110d)"></i><i style="background:linear-gradient(#c7211a,#c7211a,#c7211a,#c7211a,#c7211a,#c7211a,#c7211a,#c7211a,#c7211a,#c7211a,#c7211a,#c7211a,#c7211a,#c7211a,#c7211a,#c7211a,#c7211a,#c7211a,#c7211a,#c7211a,#c7211a,#c7211a,#c7211a,#c7211a,#c7211a,#c7211a,#c7211a,#c7211a,#c7211a,#c7211a,#c7211a,#c7211a,#c7211a,#c7211a,#c7211a,#c7211a,#c7211a,#c7211a,#c7211a,#c7211a,#c7211a,#c7211a,#c7211a,#c7211a,#c7211a,#c7211a,#c7211a,#c6211a,#c42019,#c22019,#c02019,#bf2019,#bd2018,#b61f17,#a71a13,#991510,#8e110d,#820e0b,#780c09,#710a08,#6f0a07,#730b08,#7d0d0a,#8e110d,#97140f,#95140f)"></i><i style="background:linear-gradient(#d9211c,#d9211c,#d9211c,#d9211c,#d9211c,#d9211c,#d9211c,#d9211c,#d9211c,#d9211c,#d9211c,#d9211c,#d9211c,#d9211c,#d9211c,#d9211c,#d9211c,#d9211c,#d9211c,#d9211c,#d9211c,#d9211c,#d9211c,#d9211c,#d9211c,#d9211c,#d9211c,#d9211c,#d9211c,#d9211c,#d9211c,#d9211c,#d9211c,#d9211c,#d9211c,#d9211c,#d9211c,#d9211c,#d9211c,#d9211c,#d9211c,#d9211c,#d9211c,#d9211c,#d9211c,#d9211c,#d9211c,#d7211c,#d4211b,#d2211b,#d0211b,#ce211b,#cc211a,#c22019,#af1c15,#9b1610,#90120d,#840f0b,#7d0d0a,#790c09,#760b09,#7a0c09,#860f0b,#96140f,#a01812,#9f1711)"></i><i style="background:linear-gradient(#e7221e,#e7221e,#e7221e,#e7221e,#e7221e,#e7221e,#e7221e,#e7221e,#e7221e,#e7221e,#e7221e,#e7221e,#e7221e,#e7221e,#e7221e,#e7221e,#e7221e,#e7221e,#e7221e,#e7221e,#e7221e,#e7221e,#e7221e,#e7221e,#e7221e,#e7221e,#e7221e,#e7221e,#e7221e,#e7221e,#e7221e,#e7221e,#e7221e,#e7221e,#e7221e,#e7221e,#e7221e,#e7221e,#e7221e,#e7221e,#e7221e,#e7221e,#e7221e,#e7221e,#e7221e,#e7221e,#e7221e,#e5221d,#e2221d,#e0221d,#de211c,#db211c,#d9211c,#cd211a,#b61f17,#9e1711,#92130e,#870f0c,#820e0b,#820e0b,#7d0d0a,#810e0a,#8d110d,#9d1711,#a91b14,#a71a14)"></i><i style="background:linear-gradient(#eb281f,#eb281f,#eb281f,#eb281f,#eb281f,#eb281f,#eb281f,#eb281f,#eb281f,#eb281f,#eb281f,#eb281f,#eb281f,#eb281f,#eb281f,#eb281f,#eb281f,#eb281f,#eb281f,#eb281f,#eb281f,#eb281f,#eb281f,#eb281f,#eb281f,#eb281f,#eb281f,#eb281f,#eb281f,#eb281f,#eb281f,#eb281f,#eb281f,#eb281f,#eb281f,#eb281f,#eb281f,#eb281f,#eb281f,#eb281f,#eb281f,#eb281f,#eb281f,#eb281f,#eb281f,#eb281f,#eb271f,#ea251e,#ea231e,#e9221e,#e7221e,#e4221d,#e2221d,#d5211b,#bd2018,#a31912,#97140f,#8d110d,#89100c,#8b100c,#840f0b,#88100c,#94130e,#a51913,#b11d16,#af1d15)"></i><i style="background:linear-gradient(#ec2e1f,#ec2e1f,#ec2e1f,#ec2e1f,#ec2e1f,#ec2e1f,#ec2e1f,#ec2e1f,#ec2e1f,#ec2e1f,#ec2e1f,#ec2e1f,#ec2e1f,#ec2e1f,#ec2e1f,#ec2e1f,#ec2e1f,#ec2e1f,#ec2e1f,#ec2e1f,#ec2e1f,#ec2e1f,#ec2e1f,#ec2e1f,#ec2e1f,#ec2e1f,#ec2e1f,#ec2e1f,#ec2e1f,#ec2e1f,#ec2e1f,#ec2e1f,#ec2e1f,#ec2e1f,#ec2e1f,#ec2e1f,#ec2e1f,#ec2e1f,#ec2e1f,#ec2e1f,#ec2e1f,#ec2e1f,#ec2e1f,#ec2e1f,#ec2e1f,#ec2e1f,#ec2e1f,#eb2c1f,#eb2a1f,#eb281f,#eb261e,#ea241e,#ea221e,#dd211c,#c42019,#ac1b15,#9e1711,#93130e,#90120e,#91120e,#8c110c,#8e110d,#9a1510,#ad1c15,#b92018,#b61f17)"></i><i style="background:linear-gradient(#ed3320,#ed3320,#ed3320,#ed3320,#ed3320,#ed3320,#ed3320,#ed3320,#ed3320,#ed3320,#ed3320,#ed3320,#ed3320,#ed3320,#ed3320,#ed3320,#ed3320,#ed3320,#ed3320,#ed3320,#ed3320,#ed3320,#ed3320,#ed3320,#ed3320,#ed3320,#ed3320,#ed3320,#ed3320,#ed3320,#ed3320,#ed3320,#ed3320,#ed3320,#ed3320,#ed3320,#ed3320,#ed3320,#ed3320,#ed3320,#ed3320,#ed3320,#ed3320,#ed3320,#ed3320,#ed3320,#ed3320,#ec3120,#ec2f20,#ec2d1f,#eb2b1f,#eb291f,#eb271f,#e4221d,#cc211a,#b41e17,#a61a13,#9b1610,#96140f,#97140f,#90120e,#93130e,#a01812,#b41e17,#c02019,#bc2018)"></i><i style="background:linear-gradient(#ed3721,#ed3721,#ed3721,#ed3721,#ed3721,#ed3721,#ed3721,#ed3721,#ed3721,#ed3721,#ed3721,#ed3721,#ed3721,#ed3721,#ed3721,#ed3721,#ed3721,#ed3721,#ed3721,#ed3721,#ed3721,#ed3721,#ed3721,#ed3721,#ed3721,#ed3721,#ed3721,#ed3721,#ed3721,#ed3721,#ed3721,#ed3721,#ed3721,#ed3721,#ed3721,#ed3721,#ed3721,#ed3721,#ed3721,#ed3721,#ed3721,#ed3721,#ed3721,#ed3721,#ed3721,#ed3721,#ed3721,#ed3520,#ec3320,#ec3120,#ec2f20,#ec2d1f,#eb2b1f,#e9221e,#d2211b,#bb2018,#ad1c15,#a11812,#9c1611,#9c1611,#94140f,#97150f,#a61913,#ba2018,#c6211a,#c22019)"></i><i style="background:linear-gradient(#ed3a21,#ed3a21,#ed3a21,#ed3a21,#ed3a21,#ed3a21,#ed3a21,#ed3a21,#ed3a21,#ed3a21,#ed3a21,#ed3a21,#ed3a21,#ed3a21,#ed3a21,#ed3a21,#ed3a21,#ed3a21,#ed3a21,#ed3a21,#ed3a21,#ed3a21,#ed3a21,#ed3a21,#ed3a21,#ed3a21,#ed3a21,#ed3a21,#ed3a21,#ed3a21,#ed3a21,#ed3a21,#ed3a21,#ed3a21,#ed3a21,#ed3a21,#ed3a21,#ed3a21,#ed3a21,#ed3a21,#ed3a21,#ed3a21,#ed3a21,#ed3a21,#ed3a21,#ed3a21,#ed3a21,#ed3821,#ed3620,#ed3420,#ec3220,#ec3020,#ec2e20,#ea251e,#d7211c,#c12019,#b31e16,#a61a13,#a11812,#a01812,#981510,#9b1610,#ab1b14,#bf2019,#cc211a,#c8211a)"></i><i style="background:linear-gradient(#ee3c21,#ee3c21,#ee3c21,#ee3c21,#ee3c21,#ee3c21,#ee3c21,#ee3c21,#ee3c21,#ee3c21,#ee3c21,#ee3c21,#ee3c21,#ee3c21,#ee3c21,#ee3c21,#ee3c21,#ee3c21,#ee3c21,#ee3c21,#ee3c21,#ee3c21,#ee3c21,#ee3c21,#ee3c21,#ee3c21,#ee3c21,#ee3c21,#ee3c21,#ee3c21,#ee3c21,#ee3c21,#ee3c21,#ee3c21,#ee3c21,#ee3c21,#ee3c21,#ee3c21,#ee3c21,#ee3c21,#ee3c21,#ee3c21,#ee3c21,#ee3c21,#ee3c21,#ee3c21,#ee3c21,#ee3a21,#ed3821,#ed3721,#ed3520,#ec3320,#ec3120,#eb281f,#dc211c,#c7211a,#b92018,#ac1c15,#a71a13,#a51913,#9b1610,#9f1711,#b01d16,#c52019,#d3211b,#cd211a)"></i><i style="background:linear-gradient(#ee3e21,#ee3e21,#ee3e21,#ee3e21,#ee3e21,#ee3e21,#ee3e21,#ee3e21,#ee3e21,#ee3e21,#ee3e21,#ee3e21,#ee3e21,#ee3e21,#ee3e21,#ee3e21,#ee3e21,#ee3e21,#ee3e21,#ee3e21,#ee3e21,#ee3e21,#ee3e21,#ee3e21,#ee3e21,#ee3e21,#ee3e21,#ee3e21,#ee3e21,#ee3e21,#ee3e21,#ee3e21,#ee3e21,#ee3e21,#ee3e21,#ee3e21,#ee3e21,#ee3e21,#ee3e21,#ee3e21,#ee3e21,#ee3e21,#ee3e21,#ee3e21,#ee3e21,#ee3e21,#ee3e21,#ee3c21,#ee3b21,#ed3921,#ed3721,#ed3520,#ed3420,#eb2b1f,#e1221d,#cc211a,#be2019,#b21e16,#ac1b15,#a91b14,#9f1711,#a31812,#b51f17,#ca211a,#d9211c,#d3211b)"></i><i style="background:linear-gradient(#ee4022,#ee4022,#ee4022,#ee4022,#ee4022,#ee4022,#ee4022,#ee4022,#ee4022,#ee4022,#ee4022,#ee4022,#ee4022,#ee4022,#ee4022,#ee4022,#ee4022,#ee4022,#ee4022,#ee4022,#ee4022,#ee4022,#ee4022,#ee4022,#ee4022,#ee4022,#ee4022,#ee4022,#ee4022,#ee4022,#ee4022,#ee4022,#ee4022,#ee4022,#ee4022,#ee4022,#ee4022,#ee4022,#ee4022,#ee4022,#ee4022,#ee4022,#ee4022,#ee4022,#ee4022,#ee4022,#ee4022,#ee3e21,#ee3d21,#ee3b21,#ed3921,#ed3821,#ed3620,#ec2e1f,#e5221d,#d2211b,#c42019,#b81f18,#b11d16,#ae1c15,#a21812,#a61a13,#ba2018,#cf211b,#de221d,#d9211c)"></i><i style="background:linear-gradient(#ef4222,#ef4222,#ef4222,#ef4222,#ef4222,#ef4222,#ef4222,#ef4222,#ef4222,#ef4222,#ef4222,#ef4222,#ef4222,#ef4222,#ef4222,#ef4222,#ef4222,#ef4222,#ef4222,#ef4222,#ef4222,#ef4222,#ef4222,#ef4222,#ef4222,#ef4222,#ef4222,#ef4222,#ef4222,#ef4222,#ef4222,#ef4222,#ef4222,#ef4222,#ef4222,#ef4222,#ef4222,#ef4222,#ef4222,#ef4222,#ef4222,#ef4222,#ef4222,#ef4222,#ef4222,#ef4222,#ef4222,#ee4022,#ee3e21,#ee3d21,#ee3b21,#ed3a21,#ed3821,#ec3020,#e9221e,#d7211c,#c9211a,#bd2018,#b61f17,#b21d16,#a41913,#aa1b14,#bf2019,#d4211b,#e4221d,#de221d)"></i><i style="background:linear-gradient(#ef4322,#ef4322,#ef4322,#ef4322,#ef4322,#ef4322,#ef4322,#ef4322,#ef4322,#ef4322,#ef4322,#ef4322,#ef4322,#ef4322,#ef4322,#ef4322,#ef4322,#ef4322,#ef4322,#ef4322,#ef4322,#ef4322,#ef4322,#ef4322,#ef4322,#ef4322,#ef4322,#ef4322,#ef4322,#ef4322,#ef4322,#ef4322,#ef4322,#ef4322,#ef4322,#ef4322,#ef4322,#ef4322,#ef4322,#ef4322,#ef4322,#ef4322,#ef4322,#ef4322,#ef4322,#ef4322,#ef4322,#ef4222,#ee4022,#ee3f21,#ee3d21,#ee3c21,#ee3a21,#ec3320,#ea251e,#dc211c,#cf211b,#c22019,#bb2018,#b51f17,#a71a13,#ad1c15,#c42019,#d8211c,#e9221e,#e3221d)"></i><i style="background:linear-gradient(#ef4522,#ef4522,#ef4522,#ef4522,#ef4522,#ef4522,#ef4522,#ef4522,#ef4522,#ef4522,#ef4522,#ef4522,#ef4522,#ef4522,#ef4522,#ef4522,#ef4522,#ef4522,#ef4522,#ef4522,#ef4522,#ef4522,#ef4522,#ef4522,#ef4522,#ef4522,#ef4522,#ef4522,#ef4522,#ef4522,#ef4522,#ef4522,#ef4522,#ef4522,#ef4522,#ef4522,#ef4522,#ef4522,#ef4522,#ef4522,#ef4522,#ef4522,#ef4522,#ef4522,#ef4522,#ef4522,#ef4522,#ef4322,#ef4222,#ee4022,#ee3f22,#ee3e21,#ee3c21,#ed3520,#eb281f,#e1221d,#d4211b,#c8211a,#bf2019,#b92018,#aa1b14,#b01d16,#c8211a,#dc211c,#ea251e,#e8221e)"></i><i style="background:linear-gradient(#ef4622,#ef4622,#ef4622,#ef4622,#ef4622,#ef4622,#ef4622,#ef4622,#ef4622,#ef4622,#ef4622,#ef4622,#ef4622,#ef4622,#ef4622,#ef4622,#ef4622,#ef4622,#ef4622,#ef4622,#ef4622,#ef4622,#ef4622,#ef4622,#ef4622,#ef4622,#ef4622,#ef4622,#ef4622,#ef4622,#ef4622,#ef4622,#ef4622,#ef4622,#ef4622,#ef4622,#ef4622,#ef4622,#ef4622,#ef4622,#ef4622,#ef4622,#ef4622,#ef4622,#ef4622,#ef4622,#ef4622,#ef4522,#ef4422,#ef4222,#ef4122,#ee4022,#ee3e21,#ed3821,#eb2b1f,#e5221d,#d9211c,#cd211a,#c42019,#bd2018,#ac1c15,#b31e16,#cb211a,#e0221d,#eb291f,#ea241e)"></i><i style="background:linear-gradient(#f04823,#f04823,#f04823,#f04823,#f04823,#f04823,#f04823,#f04823,#f04823,#f04823,#f04823,#f04823,#f04823,#f04823,#f04823,#f04823,#f04823,#f04823,#f04823,#f04823,#f04823,#f04823,#f04823,#f04823,#f04823,#f04823,#f04823,#f04823,#f04823,#f04823,#f04823,#f04823,#f04823,#f04823,#f04823,#f04823,#f04823,#f04823,#f04823,#f04823,#f04823,#f04823,#f04823,#f04823,#f04823,#f04823,#f04823,#ef4723,#ef4622,#ef4422,#ef4322,#ef4222,#ee4022,#ee3a21,#ec2e1f,#ea221e,#dd211c,#d2211b,#c8211a,#c02019,#af1d15,#b51f17,#cf211b,#e3221d,#eb2c1f,#eb271f)"></i><i style="background:linear-gradient(#f04a23,#f04a23,#f04a23,#f04a23,#f04a23,#f04a23,#f04a23,#f04a23,#f04a23,#f04a23,#f04a23,#f04a23,#f04a23,#f04a23,#f04a23,#f04a23,#f04a23,#f04a23,#f04a23,#f04a23,#f04a23,#f04a23,#f04a23,#f04a23,#f04a23,#f04a23,#f04a23,#f04a23,#f04a23,#f04a23,#f04a23,#f04a23,#f04a23,#f04a23,#f04a23,#f04a23,#f04a23,#f04a23,#f04a23,#f04a23,#f04a23,#f04a23,#f04a23,#f04a23,#f04a23,#f04a23,#f04a23,#f04923,#f04823,#ef4622,#ef4522,#ef4422,#ef4322,#ee3d21,#ec3120,#eb251e,#e2221d,#d6211c,#cc211a,#c42019,#b21e16,#b82018,#d1211b,#e5221d,#ec2e1f,#eb291f)"></i><i style="background:linear-gradient(#f04e23,#f04e23,#f04e23,#f04e23,#f04e23,#f04e23,#f04e23,#f04e23,#f04e23,#f04e23,#f04e23,#f04e23,#f04e23,#f04e23,#f04e23,#f04e23,#f04e23,#f04e23,#f04e23,#f04e23,#f04e23,#f04e23,#f04e23,#f04e23,#f04e23,#f04e23,#f04e23,#f04e23,#f04e23,#f04e23,#f04e23,#f04e23,#f04e23,#f04e23,#f04e23,#f04e23,#f04e23,#f04e23,#f04e23,#f04e23,#f04e23,#f04e23,#f04e23,#f04e23,#f04e23,#f04e23,#f04e23,#f04c23,#f04a23,#f04923,#ef4823,#ef4622,#ef4522,#ee3f22,#ed3420,#eb291f,#e6221e,#db211c,#d1211b,#c7211a,#b41e17,#ba2018,#d4211b,#e7221e,#ec3020,#eb2c1f)"></i><i style="background:linear-gradient(#f15322,#f15322,#f15322,#f15322,#f15322,#f15322,#f15322,#f15222,#f15222,#f15222,#f15222,#f15222,#f15222,#f15222,#f15222,#f15222,#f15222,#f15222,#f15222,#f15222,#f15222,#f15222,#f15222,#f15222,#f15222,#f15222,#f15222,#f15222,#f15222,#f15222,#f15222,#f15222,#f15222,#f15222,#f15222,#f15222,#f15222,#f15222,#f15222,#f15222,#f15222,#f15222,#f15222,#f15222,#f15222,#f15222,#f15222,#f05023,#f04e23,#f04c23,#f04a23,#f04923,#ef4723,#ef4222,#ed3721,#eb2c1f,#ea221e,#df221d,#d5211b,#ca211a,#b71f18,#bc2018,#d6211c,#e8221e,#ec3220,#ec2e1f)"></i><i style="background:linear-gradient(#f15722,#f15722,#f15722,#f15722,#f15722,#f15722,#f15722,#f15722,#f15722,#f15722,#f15722,#f15722,#f15722,#f15722,#f15722,#f15722,#f15722,#f15722,#f15722,#f15722,#f15722,#f15722,#f15722,#f15722,#f15722,#f15722,#f15722,#f15722,#f15722,#f15722,#f15722,#f15722,#f15722,#f15722,#f15722,#f15722,#f15722,#f15722,#f15722,#f15722,#f15722,#f15722,#f15722,#f15722,#f15722,#f15722,#f15622,#f15422,#f15222,#f05023,#f04d23,#f04b23,#f04a23,#ef4422,#ed3a21,#ec2f20,#eb261e,#e4221d,#d9211c,#cd211b,#ba2018,#bf2019,#d7211c,#ea221e,#ed3320,#ec2f20)"></i><i style="background:linear-gradient(#f25c22,#f25c22,#f25c22,#f25c22,#f25c22,#f25c22,#f25c22,#f25c22,#f25c22,#f25c22,#f25c22,#f25c22,#f25c22,#f25b22,#f25b22,#f25b22,#f25b22,#f25b22,#f25b22,#f25b22,#f15b22,#f15b22,#f15b22,#f15b22,#f15b22,#f15b22,#f15b22,#f15b22,#f15b22,#f15b22,#f15b22,#f15b22,#f15b22,#f15b22,#f15b22,#f15b22,#f15b22,#f15b22,#f15b22,#f15b22,#f15b22,#f15b22,#f15b22,#f15b22,#f15b22,#f15b22,#f15b22,#f15922,#f15622,#f15422,#f15222,#f04f23,#f04d23,#ef4722,#ee3c21,#ec3220,#eb291f,#e8221e,#dc211c,#d0211b,#bc2018,#c12019,#d9211c,#ea231e,#ed3420,#ec3120)"></i><i style="background:linear-gradient(#f26121,#f26121,#f26121,#f26121,#f26121,#f26121,#f26121,#f26121,#f26121,#f26021,#f26021,#f26021,#f26021,#f26021,#f26021,#f26021,#f26021,#f26021,#f26021,#f26021,#f26021,#f26021,#f26021,#f26021,#f26021,#f26021,#f26021,#f26021,#f26021,#f26021,#f26021,#f26021,#f26021,#f26021,#f26021,#f26021,#f26021,#f26021,#f26021,#f26021,#f26021,#f26021,#f26021,#f26021,#f26021,#f26021,#f26021,#f25d22,#f15b22,#f15822,#f15622,#f15322,#f15123,#f04923,#ee3f22,#ed3520,#eb2c1f,#ea241e,#e0221d,#d3211b,#bf2019,#c32019,#db211c,#ea241e,#ed3620,#ec3320)"></i><i style="background:linear-gradient(#f36621,#f26621,#f26621,#f26621,#f26621,#f26621,#f26621,#f26621,#f26621,#f26621,#f26521,#f26521,#f26521,#f26521,#f26521,#f26521,#f26521,#f26521,#f26521,#f26521,#f26521,#f26521,#f26521,#f26521,#f26521,#f26521,#f26521,#f26521,#f26521,#f26521,#f26521,#f26521,#f26521,#f26521,#f26521,#f26521,#f26521,#f26521,#f26521,#f26521,#f26521,#f26521,#f26521,#f26521,#f26521,#f26521,#f26521,#f26221,#f25f21,#f25d22,#f15a22,#f15822,#f15522,#f04c23,#ef4122,#ed3721,#ec2f20,#eb271f,#e4221d,#d6211c,#c12019,#c52019,#dc211c,#ea241e,#ed3721,#ed3420)"></i><i style="background:linear-gradient(#f36b21,#f36b21,#f36b21,#f36b21,#f36b21,#f36b21,#f36b21,#f36b21,#f36b21,#f36b21,#f36b21,#f36b21,#f36b21,#f36b21,#f36b21,#f36a21,#f36a21,#f36a21,#f36a21,#f36a21,#f36a21,#f36a21,#f36a21,#f36a21,#f36a21,#f36a21,#f36a21,#f36a21,#f36a21,#f36a21,#f36a21,#f36a21,#f36a21,#f36a21,#f36a21,#f36a21,#f36a21,#f36a21,#f36a21,#f36a21,#f36a21,#f36a21,#f36a21,#f36a21,#f36a21,#f36a21,#f36a21,#f36721,#f26421,#f26221,#f25f21,#f25c22,#f15922,#f05023,#ef4422,#ee3a21,#ec3220,#eb2a1f,#e7221e,#d9211c,#c42019,#c7211a,#dd211c,#ea251e,#ed3821,#ed3620)"></i><i style="background:linear-gradient(#f37120,#f37020,#f37020,#f37020,#f37020,#f37020,#f37020,#f37020,#f37020,#f37020,#f37020,#f37020,#f37020,#f37020,#f37020,#f37020,#f37020,#f37020,#f37020,#f37020,#f37020,#f37020,#f37020,#f37020,#f37020,#f37020,#f37020,#f37020,#f37020,#f37020,#f37020,#f37020,#f37020,#f37020,#f37020,#f37020,#f37020,#f37020,#f37020,#f37020,#f37020,#f37020,#f37020,#f37020,#f37020,#f37020,#f36f20,#f36c20,#f36921,#f36621,#f26421,#f26121,#f25e22,#f15422,#ef4722,#ee3d21,#ed3520,#ec2d1f,#ea221e,#dc211c,#c6211a,#c9211a,#df221d,#eb261f,#ed3921,#ed3721)"></i><i style="background:linear-gradient(#f47620,#f47620,#f47620,#f47620,#f47620,#f47620,#f47620,#f47620,#f47620,#f47620,#f47620,#f47620,#f47620,#f47620,#f47620,#f47620,#f47620,#f47620,#f47620,#f47620,#f47620,#f47620,#f47620,#f47620,#f47620,#f47620,#f47620,#f47620,#f47620,#f47620,#f47620,#f47620,#f47620,#f47620,#f47620,#f47620,#f47620,#f47620,#f47620,#f47620,#f47620,#f47620,#f47620,#f47620,#f47620,#f47620,#f47620,#f47220,#f36f20,#f36c20,#f36921,#f26521,#f26221,#f15922,#f04923,#ee4022,#ed3721,#ec3020,#ea251e,#df221d,#c9211a,#cb211a,#e0221d,#eb271f,#ee3a21,#ed3921)"></i><i style="background:linear-gradient(#f47b1f,#f47b1f,#f47b1f,#f47b1f,#f47b1f,#f47b1f,#f47b1f,#f47c1f,#f47c1f,#f47c1f,#f47c1f,#f47c1f,#f57c1f,#f57c1f,#f57c1f,#f57c1f,#f57c1f,#f57c1f,#f57c1f,#f57c1f,#f57c1f,#f57c1f,#f57c1f,#f57c1f,#f57c1f,#f57c1f,#f57d1f,#f57d1f,#f57d1f,#f57d1f,#f57d1f,#f57d1f,#f57d1f,#f57d1f,#f57d1f,#f57d1f,#f57d1f,#f57d1f,#f57d1f,#f57d1f,#f57d1f,#f57d1f,#f57d1f,#f57d1f,#f57d1f,#f57d1f,#f57c1f,#f4791f,#f47520,#f47220,#f36e20,#f36a21,#f36721,#f25d22,#f04d23,#ef4222,#ee3a21,#ec3220,#eb271f,#e2221d,#cb211a,#cd211a,#e2221d,#eb281f,#ee3b21,#ee3a21)"></i><i style="background:linear-gradient(#f5801f,#f5811f,#f5811f,#f5811f,#f5811f,#f5811f,#f5811f,#f5821f,#f5821f,#f5821f,#f5821f,#f5821f,#f5821f,#f5831f,#f5831f,#f5831f,#f5831f,#f5831f,#f5831f,#f5831f,#f5841f,#f5841f,#f5841f,#f5841f,#f5841f,#f5841f,#f5851f,#f5851f,#f5851f,#f5851f,#f5851f,#f5851f,#f5851f,#f5851f,#f5851f,#f5851f,#f5851f,#f5851f,#f5851f,#f5851f,#f5851f,#f5851f,#f5851f,#f5851f,#f5851f,#f5851f,#f5841f,#f5801f,#f57c1f,#f47820,#f47420,#f37020,#f36b21,#f26221,#f15222,#ef4522,#ee3d21,#ed3420,#eb2a1f,#e5221d,#ce211b,#cf211b,#e4221d,#eb291f,#ee3d21,#ee3c21)"></i><i style="background:linear-gradient(#f5861e,#f5861e,#f5861e,#f6871e,#f6871e,#f6871e,#f6881e,#f6881e,#f6881e,#f6881e,#f6891e,#f6891e,#f6891e,#f68a1e,#f68a1e,#f68a1e,#f68b1e,#f68b1e,#f68b1e,#f68b1e,#f68c1e,#f68c1e,#f68c1e,#f68c1e,#f68d1e,#f68d1e,#f68d1e,#f68d1e,#f68d1e,#f68d1e,#f68d1e,#f68d1e,#f68d1e,#f68d1e,#f68d1e,#f68d1e,#f68d1e,#f68d1e,#f68d1e,#f68d1e,#f68d1e,#f68d1e,#f68d1e,#f68d1e,#f68d1e,#f68d1e,#f68d1e,#f6881e,#f5841f,#f57f1f,#f47a1f,#f47520,#f37020,#f36621,#f15622,#f04823,#ee3f22,#ed3620,#eb2c1f,#e7221e,#d0211b,#d1211b,#e6221d,#eb2a1f,#ee3e21,#ee3d21)"></i><i style="background:linear-gradient(#f68b1e,#f68c1e,#f68c1e,#f68d1e,#f68d1e,#f68d1e,#f68e1e,#f68e1e,#f68e1e,#f68f1e,#f68f1d,#f6901d,#f6901d,#f6901d,#f6911d,#f6911d,#f7911d,#f7921d,#f7921d,#f7921d,#f7931d,#f7931d,#f7941d,#f7941d,#f7941d,#f7951d,#f7951d,#f7951c,#f7951c,#f7951c,#f7951c,#f7951c,#f7951c,#f7951c,#f7951c,#f7951c,#f7951c,#f7951c,#f7951c,#f7951c,#f7951c,#f7951c,#f7951c,#f7951c,#f7951c,#f7951c,#f7951d,#f6901d,#f68c1e,#f5861e,#f5811f,#f47b1f,#f47520,#f36b21,#f15b22,#f04b23,#ef4222,#ed3821,#ec2e1f,#ea221e,#d3211b,#d3211b,#e7221e,#eb2b1f,#ee4022,#ee3f22)"></i><i style="background:linear-gradient(#f6901d,#f6911d,#f7911d,#f7921d,#f7921d,#f7931d,#f7931d,#f7941d,#f7941d,#f7951d,#f7951c,#f7961c,#f7961c,#f7971c,#f7971c,#f7981c,#f7981c,#f7991c,#f7991c,#f79a1c,#f79a1c,#f79b1c,#f89b1b,#f89c1b,#f89c1b,#f89d1b,#f89d1b,#f89d1b,#f89d1b,#f89d1b,#f89d1b,#f89d1b,#f89d1b,#f89d1b,#f89d1b,#f89d1b,#f89d1b,#f89d1b,#f89d1b,#f89d1b,#f89d1b,#f89d1b,#f89d1b,#f89d1b,#f89d1b,#f89d1b,#f89d1b,#f7981c,#f7921d,#f68d1e,#f6871e,#f5811f,#f47b1f,#f37020,#f26021,#f04f23,#ef4422,#ee3a21,#ec3020,#ea251e,#d5211b,#d5211b,#e9221e,#eb2c1f,#ef4122,#ee4022)"></i><i style="background:linear-gradient(#f7951c,#f7961c,#f7961c,#f7971c,#f7981c,#f7981c,#f7991c,#f7991c,#f79a1c,#f79b1c,#f89b1b,#f89c1b,#f89c1b,#f89d1b,#f89e1b,#f89e1b,#f89f1b,#f8a01b,#f8a01b,#f8a11b,#f8a21a,#f8a21a,#f8a31a,#f8a31a,#f8a41a,#f8a51a,#f9a51a,#f9a51a,#f9a51a,#f9a51a,#f9a51a,#f9a51a,#f9a51a,#f9a51a,#f9a51a,#f9a51a,#f9a51a,#f9a51a,#f9a51a,#f9a51a,#f9a51a,#f9a51a,#f9a51a,#f9a51a,#f9a51a,#f9a51a,#f9a51a,#f89f1b,#f7991c,#f7941d,#f68e1e,#f6871e,#f5801f,#f47520,#f26421,#f15422,#ef4622,#ee3c21,#ec3220,#eb271f,#d8211c,#d7211c,#ea231e,#ec2d1f,#ef4222,#ef4222)"></i><i style="background:linear-gradient(#f79a1c,#f79b1c,#f89b1b,#f89c1b,#f89d1b,#f89e1b,#f89e1b,#f89f1b,#f8a01b,#f8a11b,#f8a11a,#f8a21a,#f8a31a,#f8a41a,#f8a41a,#f9a51a,#f9a61a,#f9a71a,#f9a719,#f9a819,#f9a919,#f9aa19,#f9aa19,#f9ab19,#f9ac19,#f9ad19,#f9ad18,#f9ad18,#f9ad18,#f9ad18,#f9ad18,#f9ad18,#f9ad18,#f9ad18,#f9ad18,#f9ad18,#f9ad18,#f9ad18,#f9ad18,#f9ad18,#f9ad18,#f9ad18,#f9ad18,#f9ad18,#f9ad18,#f9ad18,#f9ad18,#f9a71a,#f8a01b,#f79a1c,#f7931d,#f68d1e,#f5861e,#f47a1f,#f36a21,#f15922,#f04923,#ee3e21,#ed3420,#eb291f,#da211c,#d9211c,#ea241e,#ec2e1f,#ef4322,#ef4322)"></i><i style="background:linear-gradient(#f89f1b,#f8a01b,#f8a11b,#f8a21a,#f8a21a,#f8a31a,#f8a41a,#f8a51a,#f9a61a,#f9a71a,#f9a719,#f9a819,#f9a919,#f9aa19,#f9ab19,#f9ac19,#f9ad19,#f9ad18,#f9ae18,#faaf18,#fab018,#fab118,#fab218,#fab218,#fab317,#fab417,#fab517,#fab517,#fab517,#fab517,#fab517,#fab517,#fab517,#fab517,#fab517,#fab517,#fab517,#fab517,#fab517,#fab517,#fab517,#fab517,#fab517,#fab517,#fab517,#fab517,#fab517,#f9ae18,#f9a71a,#f8a01b,#f7991c,#f7921d,#f68b1e,#f57f1f,#f36f20,#f25e22,#f04c23,#ee4022,#ed3620,#eb2c1f,#dd211c,#db211c,#ea251e,#ec2f20,#ef4522,#ef4422)"></i><i style="background:linear-gradient(#f8a41a,#f9a51a,#f9a61a,#f9a719,#f9a819,#f9a919,#f9aa19,#f9ab19,#f9ac19,#f9ad19,#f9ad18,#f9ae18,#faaf18,#fab018,#fab118,#fab218,#fab318,#fab417,#fab517,#fab617,#fab717,#fab717,#fab817,#fbb916,#fbba16,#fbbb16,#fbbc16,#fbbc16,#fbbc16,#fbbc16,#fbbc16,#fbbc16,#fbbc16,#fbbc16,#fbbc16,#fbbc16,#fbbc16,#fbbc16,#fbbc16,#fbbc16,#fbbc16,#fbbc16,#fbbc16,#fbbc16,#fbbc16,#fbbc16,#fbbc16,#fab517,#f9ad18,#f9a61a,#f89f1b,#f7971c,#f6901d,#f5851f,#f47420,#f26421,#f15123,#ef4322,#ed3821,#ec2e1f,#df221d,#dd211c,#eb261f,#ec3020,#ef4622,#ef4622)"></i><i style="background:linear-gradient(#f9aa19,#f9ab19,#f9ac19,#f9ad19,#f9ae18,#f9af18,#fab018,#fab118,#fab218,#fab318,#fab417,#fab517,#fab617,#fab717,#fab717,#fab817,#fbb916,#fbba16,#fbbb16,#fbbc16,#fbbd16,#fbbe16,#fbbf15,#fbc015,#fbc115,#fbc215,#fbc315,#fbc315,#fbc315,#fbc315,#fbc315,#fbc315,#fbc315,#fbc315,#fbc315,#fbc315,#fbc315,#fbc315,#fbc315,#fbc315,#fbc315,#fbc315,#fbc315,#fcc315,#fcc315,#fcc315,#fbc315,#fbbb16,#fab317,#f9ac19,#f8a41a,#f89d1b,#f7951c,#f68a1e,#f47a1f,#f36a21,#f15622,#ef4522,#ee3a21,#ec3120,#e2221d,#df221d,#eb271f,#ec3120,#ef4723,#ef4723)"></i><i style="background:linear-gradient(#fab018,#fab118,#fab218,#fab317,#fab417,#fab517,#fab617,#fab717,#fab817,#fbb916,#fbba16,#fbbb16,#fbbc16,#fbbd16,#fbbe16,#fbbf15,#fbc015,#fbc115,#fbc215,#fbc315,#fcc415,#fcc515,#fcc614,#fcc714,#fcc814,#fcc914,#fcc914,#fcc914,#fcc914,#fcc914,#fcc914,#fcc914,#fcc914,#fcc914,#fcc914,#fcc914,#fcc914,#fcc914,#fcc914,#fcc914,#fcc914,#fcc914,#fcc914,#fcc914,#fcc914,#fcc914,#fcc914,#fbc215,#fbba16,#fab218,#f9aa19,#f8a21a,#f79a1c,#f6901d,#f5801f,#f37020,#f15b22,#ef4723,#ee3d21,#ec3320,#e5221d,#e1221d,#eb291f,#ec3220,#f04823,#f04823)"></i><i style="background:linear-gradient(#fab717,#fab817,#fbb916,#fbba16,#fbbb16,#fbbc16,#fbbd16,#fbbe16,#fbbf15,#fbc015,#fbc115,#fbc215,#fcc315,#fcc415,#fcc515,#fcc614,#fcc714,#fcc814,#fcc914,#fcc914,#fcca14,#fccb14,#fccb14,#fccc14,#fccd14,#fccd14,#fcce14,#fcce14,#fcce14,#fcce14,#fcce14,#fcce14,#fcce14,#fcce14,#fcce14,#fcce14,#fcce14,#fcce14,#fcce14,#fcce14,#fcce14,#fcce14,#fcce14,#fdce14,#fdce14,#fdce14,#fcce14,#fcc814,#fbc015,#fab817,#fab018,#f9a819,#f8a01b,#f7951c,#f5871e,#f47620,#f26021,#f04a23,#ee3f22,#ed3520,#e7221e,#e3221d,#eb2a1f,#ed3320,#f04923,#f04a23)"></i><i style="background:linear-gradient(#fbbe16,#fbbf15,#fbc015,#fbc115,#fbc215,#fcc315,#fcc415,#fcc515,#fcc614,#fcc714,#fcc814,#fcc914,#fcc914,#fcca14,#fccb14,#fccb14,#fccc14,#fccd14,#fccd14,#fcce14,#fdcf14,#fdcf14,#fdd014,#fdd114,#fdd114,#fdd214,#fdd314,#fdd314,#fdd314,#fdd314,#fdd314,#fdd314,#fdd314,#fdd314,#fdd314,#fdd314,#fdd314,#fdd314,#fdd314,#fdd314,#fdd314,#fdd314,#fdd314,#fdd314,#fdd314,#fdd314,#fdd314,#fccd14,#fcc714,#fbbf16,#fab617,#f9ae18,#f9a51a,#f79b1c,#f68d1e,#f57d1f,#f26621,#f04d23,#ef4122,#ed3821,#ea221e,#e5221d,#eb2a1f,#ed3420,#f04a23,#f04b23)"></i><i style="background:linear-gradient(#fcc515,#fcc614,#fcc714,#fcc814,#fcc914,#fcc914,#fcca14,#fccb14,#fccb14,#fccc14,#fccd14,#fccd14,#fcce14,#fdcf14,#fdcf14,#fdd014,#fdd114,#fdd114,#fdd214,#fdd314,#fdd314,#fdd414,#fdd514,#fdd514,#fdd614,#fdd714,#fdd714,#fdd714,#fdd714,#fdd714,#fdd714,#fdd714,#fdd714,#fdd714,#fdd714,#fdd714,#fdd714,#fdd714,#fdd714,#fdd714,#fdd814,#fdd814,#fdd814,#fdd814,#fdd814,#fdd814,#fdd814,#fdd214,#fccc14,#fcc515,#fbbc16,#fab417,#f9ab19,#f8a01b,#f7931d,#f5831f,#f36c20,#f15222,#ef4422,#ee3a21,#ea241e,#e7221e,#eb2b1f,#ed3520,#f04b23,#f04d23)"></i><i style="background:linear-gradient(#fcca14,#fccb14,#fccc14,#fccc14,#fccd14,#fcce14,#fdce14,#fdcf14,#fdd014,#fdd014,#fdd114,#fdd214,#fdd214,#fdd314,#fdd414,#fdd414,#fdd514,#fdd614,#fdd614,#fdd714,#fdd814,#fdd814,#fdd914,#fdda14,#fdda14,#fedb14,#fedc14,#fedc14,#fedc14,#fedc14,#fedc14,#fedb14,#fedb14,#fedb14,#fedb14,#fedb14,#fedb14,#fedb14,#fedc14,#fedc14,#fedc14,#fedc14,#fedc14,#fedc14,#fedc14,#fedc14,#fedc14,#fdd614,#fdd014,#fcca14,#fbc215,#fbb916,#fab118,#f9a61a,#f7981c,#f68a1e,#f47120,#f15722,#ef4622,#ee3d21,#eb261e,#e9221e,#ec2c1f,#ed3620,#f04c23,#f04f23)"></i><i style="background:linear-gradient(#fdcf14,#fdcf14,#fdd014,#fdd114,#fdd114,#fdd214,#fdd314,#fdd314,#fdd414,#fdd514,#fdd514,#fdd614,#fdd614,#fdd714,#fdd814,#fdd814,#fdd914,#fdda14,#fdda14,#fedb14,#fedc14,#fedc14,#fedd14,#fede14,#fede14,#fedf14,#fee014,#fee014,#fee014,#fee014,#fedf14,#fedf14,#fedf14,#fedf14,#fedf14,#fedf14,#fedf14,#fedf14,#fedf14,#fee014,#fee014,#fee014,#fee014,#fee014,#fee014,#fee014,#fee014,#fdda14,#fdd414,#fcce14,#fcc814,#fbbf15,#fab617,#f9ac19,#f89e1b,#f6901d,#f47720,#f25b22,#f04923,#ee3f22,#eb281f,#ea231e,#ec2d1f,#ed3721,#f04e23,#f15023)"></i><i style="background:linear-gradient(#fdd214,#fdd314,#fdd414,#fdd414,#fdd514,#fdd514,#fdd614,#fdd714,#fdd714,#fdd814,#fdd914,#fdd914,#fdda14,#fddb14,#fedb14,#fedc14,#fedd14,#fedd14,#fede14,#fede14,#fedf14,#fee014,#fee014,#fee114,#fee214,#fee214,#fee314,#fee314,#fee314,#fee314,#fee314,#fee314,#fee314,#fee314,#fee314,#fee314,#fee314,#fee314,#fee314,#fee314,#fee314,#fee314,#fee314,#fee314,#fee314,#fee314,#fee314,#fedd14,#fdd714,#fdd114,#fccb14,#fcc415,#fbbc16,#fab118,#f8a31a,#f7961c,#f57d1f,#f26021,#f04b23,#ef4222,#eb2a1f,#ea241e,#ec2e1f,#ed3821,#f04f23,#f15222)"></i><i style="background:linear-gradient(#fdd514,#fdd614,#fdd614,#fdd714,#fdd814,#fdd814,#fdd914,#fdda14,#fdda14,#fddb14,#fedc14,#fedc14,#fedd14,#fede14,#fede14,#fedf14,#fedf14,#fee014,#fee114,#fee114,#fee214,#fee314,#fee314,#fee414,#fee514,#fee514,#fee614,#fee614,#fee614,#fee614,#fee614,#fee614,#fee614,#fee614,#fee614,#fee614,#fee614,#fee614,#fee614,#fee614,#fee614,#fee614,#fee614,#fee614,#fee614,#fee614,#fee614,#fee014,#fdda14,#fdd414,#fdcf14,#fcc914,#fbc115,#fab717,#f9a919,#f89b1b,#f5831f,#f26521,#f05023,#ef4422,#eb2c1f,#ea251e,#ec2f20,#ed3921,#f15123,#f15422)"></i><i style="background:linear-gradient(#fdd814,#fdd814,#fdd914,#fdda14,#fdda14,#fddb14,#fedc14,#fedc14,#fedd14,#fedd14,#fede14,#fedf14,#fedf14,#fee014,#fee114,#fee114,#fee214,#fee314,#fee314,#fee414,#fee414,#fee514,#fee614,#fee614,#fee714,#fee814,#ffe814,#ffe814,#ffe814,#ffe814,#ffe914,#ffe914,#ffe914,#ffe914,#ffe914,#ffe914,#ffe914,#ffe914,#ffe914,#ffe814,#ffe814,#ffe814,#ffe814,#ffe814,#ffe814,#ffe814,#fee714,#fee214,#fedd14,#fdd714,#fdd214,#fccc14,#fcc714,#fbbc16,#f9af18,#f8a11b,#f6891e,#f36b21,#f15522,#ef4722,#ec2e1f,#eb271f,#ec3020,#ee3a21,#f15322,#f15622)"></i><i style="background:linear-gradient(#fdda14,#fddb14,#fedb14,#fedc14,#fedd14,#fedd14,#fede14,#fede14,#fedf14,#fee014,#fee014,#fee114,#fee214,#fee214,#fee314,#fee314,#fee414,#fee514,#fee514,#fee614,#fee714,#fee714,#ffe814,#ffe814,#ffe914,#ffea14,#ffea14,#ffea14,#ffeb14,#ffeb14,#ffeb14,#ffeb14,#ffeb14,#ffeb14,#ffeb14,#ffeb14,#ffeb14,#ffeb14,#ffeb14,#ffeb14,#ffea14,#ffea14,#ffea14,#ffea14,#ffea14,#ffea14,#ffe914,#fee414,#fedf14,#fdda14,#fdd514,#fdd014,#fccb14,#fbc215,#fab417,#f9a71a,#f68f1d,#f47220,#f15a22,#f04923,#ec3020,#eb281f,#ec3120,#ee3b21,#f15422,#f15822)"></i><i style="background:linear-gradient(#fedc14,#fedd14,#fedd14,#fede14,#fedf14,#fedf14,#fee014,#fee114,#fee114,#fee214,#fee214,#fee314,#fee414,#fee414,#fee514,#fee514,#fee614,#fee714,#fee714,#ffe814,#ffe814,#ffe914,#ffea14,#ffea14,#ffeb14,#ffeb14,#ffec14,#ffec14,#ffec14,#ffed14,#ffed14,#ffed14,#ffed14,#ffed14,#ffed14,#ffee14,#ffed14,#ffed14,#ffed14,#ffed14,#ffec14,#ffec14,#ffec14,#ffec14,#ffeb14,#ffeb14,#ffea14,#fee614,#fee114,#fedd14,#fdd814,#fdd414,#fdcf14,#fcc814,#fbba16,#f9ac19,#f7951c,#f47820,#f26021,#f04c23,#ec3120,#eb291f,#ec3220,#ee3c21,#f15622,#f15a22)"></i><i style="background:linear-gradient(#fede14,#fedf14,#fedf14,#fee014,#fee114,#fee114,#fee214,#fee214,#fee314,#fee414,#fee414,#fee514,#fee614,#fee614,#fee714,#fee714,#ffe814,#ffe814,#ffe914,#ffea14,#ffea14,#ffeb14,#ffeb14,#ffec14,#ffed14,#ffed14,#ffee14,#ffee14,#ffee14,#ffee15,#ffee16,#ffee16,#ffee17,#ffee17,#ffee18,#ffee18,#ffee17,#ffee16,#ffee16,#ffee15,#ffee14,#ffee14,#ffed14,#ffed14,#ffed14,#ffec14,#ffec14,#fee814,#fee314,#fedf14,#fedb14,#fdd714,#fdd314,#fccc14,#fbc015,#fab218,#f79b1c,#f57f1f,#f26621,#f05023,#ed3320,#eb2b1f,#ed3320,#ee3d21,#f15822,#f25b22)"></i><i style="background:linear-gradient(#fee014,#fee114,#fee114,#fee214,#fee214,#fee314,#fee414,#fee414,#fee514,#fee614,#fee614,#fee714,#fee714,#ffe814,#ffe814,#ffe914,#ffea14,#ffea14,#ffeb14,#ffeb14,#ffec14,#ffec14,#ffed14,#ffee14,#ffee14,#ffee16,#ffee17,#ffee18,#ffee18,#ffee19,#ffee1a,#ffef1a,#ffef1b,#ffef1c,#ffef1c,#ffef1d,#ffef1c,#ffef1b,#ffee1a,#ffee19,#ffee18,#ffee17,#ffee16,#ffee15,#ffee14,#ffee14,#ffed14,#ffe914,#fee614,#fee214,#fede14,#fdda14,#fdd714,#fdd014,#fcc614,#fab817,#f8a11b,#f5861e,#f36c20,#f15422,#ed3520,#eb2c1f,#ed3420,#ee3e21,#f15a22,#f25d22)"></i><i style="background:linear-gradient(#fee214,#fee214,#fee314,#fee414,#fee414,#fee514,#fee514,#fee614,#fee714,#fee714,#ffe814,#ffe814,#ffe914,#ffea14,#ffea14,#ffeb14,#ffeb14,#ffec14,#ffec14,#ffed14,#ffee14,#ffee14,#ffee16,#ffee17,#ffee18,#ffee19,#ffef1b,#ffef1b,#ffef1c,#ffef1d,#ffef1e,#ffef1f,#ffef1f,#ffef20,#ffef21,#ffef22,#ffef21,#ffef1f,#ffef1e,#ffef1d,#ffef1c,#ffef1b,#ffee19,#ffee18,#ffee17,#ffee16,#ffee14,#ffeb14,#fee814,#fee414,#fee114,#fede14,#fdda14,#fdd414,#fcca14,#fbbd16,#f9a61a,#f68d1e,#f47220,#f15922,#ed3721,#ec2d1f,#ed3520,#ee3f22,#f25b22,#f25f21)"></i><i style="background:linear-gradient(#fee314,#fee414,#fee514,#fee514,#fee614,#fee614,#fee714,#fee814,#ffe814,#ffe914,#ffe914,#ffea14,#ffeb14,#ffeb14,#ffec14,#ffec14,#ffed14,#ffee14,#ffee14,#ffee16,#ffee17,#ffee18,#ffee19,#ffef1b,#ffef1c,#ffef1d,#ffef1f,#ffef20,#ffef21,#ffef21,#ffef22,#ffef23,#ffef24,#ffef25,#fff026,#fff027,#ffef25,#ffef24,#ffef23,#ffef21,#ffef20,#ffef1e,#ffef1d,#ffef1c,#ffef1a,#ffee19,#ffee17,#ffec14,#ffea14,#fee714,#fee414,#fee114,#fede14,#fdd814,#fcce14,#fbc315,#f9ac19,#f7931d,#f47820,#f25d22,#ed3821,#ec2e1f,#ed3620,#ee4022,#f25d22,#f26021)"></i><i style="background:linear-gradient(#fee514,#fee514,#fee614,#fee714,#fee714,#ffe814,#ffe814,#ffe914,#ffea14,#ffea14,#ffeb14,#ffec14,#ffec14,#ffed14,#ffed14,#ffee14,#ffee15,#ffee17,#ffee18,#ffee1a,#ffef1b,#ffef1c,#ffef1e,#ffef1f,#ffef20,#ffef22,#ffef23,#ffef24,#ffef25,#fff026,#fff027,#fff028,#fff029,#fff02a,#fff02b,#fff02c,#fff02b,#fff029,#fff028,#ffef26,#ffef24,#ffef23,#ffef21,#ffef20,#ffef1e,#ffef1c,#ffef1b,#ffee14,#ffec14,#ffe914,#fee614,#fee314,#fee114,#fddb14,#fdd114,#fcc714,#fab118,#f7981c,#f57e1f,#f26121,#ee3a21,#ec2f20,#ed3721,#ee4122,#f25e22,#f26121)"></i><i style="background:linear-gradient(#fee614,#fee714,#fee714,#ffe814,#ffe914,#ffe914,#ffea14,#ffeb14,#ffeb14,#ffec14,#ffed14,#ffed14,#ffee14,#ffee15,#ffee17,#ffee18,#ffee1a,#ffef1b,#ffef1d,#ffef1e,#ffef20,#ffef21,#ffef23,#ffef24,#ffef26,#fff027,#fff029,#fff02a,#fff02b,#fff02c,#fff02d,#fff02e,#fff02f,#fff030,#fff031,#fff132,#fff031,#fff02f,#fff02d,#fff02b,#fff029,#fff028,#ffef26,#ffef24,#ffef22,#ffef20,#ffef1e,#ffee19,#ffee14,#ffeb14,#ffe814,#fee614,#fee314,#fede14,#fdd414,#fccb14,#fab517,#f89d1b,#f5831f,#f26621,#ee3c21,#ec3120,#ed3821,#ef4222,#f26021,#f26321)"></i><i style="background:linear-gradient(#fee714,#ffe814,#ffe914,#ffe914,#ffea14,#ffeb14,#ffeb14,#ffec14,#ffed14,#ffed14,#ffee14,#ffee15,#ffee17,#ffee19,#ffef1a,#ffef1c,#ffef1e,#ffef1f,#ffef21,#ffef23,#ffef24,#fff026,#fff028,#fff029,#fff02b,#fff02d,#fff02f,#fff030,#fff031,#fff132,#fff133,#fff135,#fff136,#fff137,#fff138,#fff139,#fff137,#fff135,#fff133,#fff031,#fff02f,#fff02d,#fff02b,#fff029,#fff027,#ffef25,#ffef23,#ffef1d,#ffee18,#ffed14,#ffeb14,#ffe814,#fee614,#fee014,#fdd714,#fccd14,#fbb916,#f8a11a,#f6881e,#f36b21,#ee3e21,#ec3220,#ed3921,#ef4322,#f26121,#f26421)"></i><i style="background:linear-gradient(#ffe814,#ffe914,#ffea14,#ffea14,#ffeb14,#ffec14,#ffed14,#ffed14,#ffee14,#ffee15,#ffee17,#ffee19,#ffef1a,#ffef1c,#ffef1e,#ffef20,#ffef22,#ffef24,#ffef26,#fff028,#fff02a,#fff02b,#fff02d,#fff02f,#fff031,#fff133,#fff135,#fff137,#fff138,#fff139,#fff13a,#fff13b,#fff13d,#fff13e,#fff23f,#fff240,#fff13e,#fff13c,#fff139,#fff137,#fff135,#fff133,#fff031,#fff02e,#fff02c,#fff02a,#fff028,#ffef22,#ffef1c,#ffee17,#ffed14,#ffea14,#ffe814,#fee214,#fdd914,#fdd014,#fbbd16,#f9a61a,#f68d1e,#f36f20,#ee4022,#ed3320,#ed3921,#ef4422,#f26221,#f26421)"></i><i style="background:linear-gradient(#ffe914,#ffea14,#ffeb14,#ffeb14,#ffec14,#ffed14,#ffee14,#ffee15,#ffee17,#ffee18,#ffee1a,#ffef1c,#ffef1d,#ffef1f,#ffef21,#ffef23,#ffef26,#fff028,#fff02a,#fff02d,#fff02f,#fff031,#fff133,#fff136,#fff138,#fff13a,#fff13d,#fff13e,#fff23f,#fff240,#fff242,#fff243,#fff244,#fff245,#fff246,#fff247,#fff245,#fff243,#fff240,#fff13e,#fff13b,#fff139,#fff136,#fff134,#fff032,#fff02f,#fff02d,#fff027,#ffef21,#ffef1b,#ffee16,#ffec14,#ffea14,#fee414,#fedb14,#fdd314,#fbc115,#f9aa19,#f7911d,#f47420,#ef4322,#ed3520,#ee3a21,#ef4422,#f26321,#f26521)"></i><i style="background:linear-gradient(#ffea14,#ffeb14,#ffec14,#ffec14,#ffed14,#ffee14,#ffee16,#ffee17,#ffee19,#ffef1b,#ffef1d,#ffef1e,#ffef20,#ffef22,#ffef25,#fff027,#fff02a,#fff02d,#fff02f,#fff032,#fff134,#fff137,#fff13a,#fff13c,#fff23f,#fff242,#fff244,#fff246,#fff247,#fff248,#fff249,#fff34a,#fff34c,#fff34d,#fff34e,#fff34f,#fff34c,#fff24a,#fff247,#fff245,#fff242,#fff23f,#fff13d,#fff13a,#fff137,#fff135,#fff032,#fff02c,#fff026,#ffef20,#ffef1a,#ffee14,#ffec14,#fee614,#fede14,#fdd514,#fcc514,#f9ae18,#f7961c,#f4791f,#ef4522,#ed3620,#ee3b21,#ef4522,#f26421,#f26621)"></i><i style="background:linear-gradient(#ffeb14,#ffec14,#ffed14,#ffed14,#ffee15,#ffee16,#ffee18,#ffef1a,#ffef1c,#ffef1e,#ffef1f,#ffef21,#ffef23,#ffef25,#fff028,#fff02b,#fff02e,#fff031,#fff134,#fff137,#fff13a,#fff13d,#fff240,#fff243,#fff246,#fff249,#fff34c,#fff34e,#fff34f,#fff350,#fff351,#fff352,#fff354,#fff355,#fff356,#fff457,#fff354,#fff351,#fff34e,#fff34c,#fff249,#fff246,#fff243,#fff240,#fff13d,#fff13b,#fff137,#fff031,#fff02b,#ffef25,#ffef1f,#ffee19,#ffed14,#ffe814,#fee014,#fdd714,#fcc914,#fab218,#f79a1c,#f57e1f,#ef4723,#ed3721,#ee3b21,#ef4622,#f26521,#f36721)"></i><i style="background:linear-gradient(#ffec14,#ffed14,#ffee14,#ffee15,#ffee17,#ffee19,#ffef1b,#ffef1d,#ffef1e,#ffef20,#ffef22,#ffef24,#fff026,#fff028,#fff02c,#fff02f,#fff132,#fff136,#fff139,#fff13d,#fff240,#fff243,#fff247,#fff34a,#fff34e,#fff351,#fff354,#fff356,#fff457,#fff458,#fff459,#fff45a,#fff45c,#fff45d,#fff45e,#fff45f,#fff45c,#fff459,#fff356,#fff353,#fff350,#fff34d,#fff24a,#fff247,#fff244,#fff241,#fff13d,#fff137,#fff030,#fff02a,#ffef24,#ffef1d,#ffee17,#ffea14,#fee214,#fdd914,#fccb14,#fab617,#f89e1b,#f5831f,#f04a23,#ed3921,#ee3c21,#ef4723,#f26621,#f36821)"></i><i style="background:linear-gradient(#ffed14,#ffee14,#ffee15,#ffee17,#ffee19,#ffef1b,#ffef1d,#ffef1f,#ffef21,#ffef23,#ffef25,#fff027,#fff029,#fff02b,#fff02f,#fff133,#fff137,#fff13a,#fff23e,#fff242,#fff246,#fff24a,#fff34d,#fff351,#fff355,#fff459,#fff45d,#fff45e,#fff45f,#fff460,#fff462,#fff563,#fff564,#fff565,#fff566,#fff567,#fff564,#fff460,#fff45d,#fff45a,#fff457,#fff354,#fff350,#fff34d,#fff24a,#fff247,#fff243,#fff13d,#fff136,#fff02f,#fff028,#ffef21,#ffef1b,#ffec14,#fee414,#fedc14,#fccd14,#fbb916,#f8a21a,#f6881e,#f04d23,#ee3a21,#ee3c21,#f04823,#f36721,#f36821)"></i><i style="background:linear-gradient(#ffee14,#ffee15,#ffee17,#ffee1a,#ffef1c,#ffef1e,#ffef20,#ffef22,#ffef24,#fff026,#fff028,#fff02a,#fff02d,#fff02f,#fff133,#fff137,#fff13b,#fff23f,#fff244,#fff248,#fff34c,#fff350,#fff354,#fff458,#fff45d,#fff461,#fff565,#fff566,#fff568,#fff569,#fff56a,#fff56b,#fff56c,#fff56d,#fff66e,#fff66f,#fff56c,#fff568,#fff565,#fff461,#fff45e,#fff45b,#fff457,#fff354,#fff350,#fff34d,#fff249,#fff242,#fff13b,#fff134,#fff02d,#fff026,#ffef1f,#ffed14,#fee514,#fedd14,#fdcf14,#fbbd16,#f9a51a,#f68d1e,#f15123,#ee3b21,#ee3d21,#f04923,#f36821,#f36921)"></i><i style="background:linear-gradient(#ffee15,#ffee18,#ffee1a,#ffef1c,#ffef1e,#ffef21,#ffef23,#ffef25,#fff027,#fff029,#fff02c,#fff02e,#fff030,#fff132,#fff137,#fff13b,#fff240,#fff244,#fff249,#fff34d,#fff352,#fff456,#fff45b,#fff45f,#fff564,#fff568,#fff56d,#fff66f,#fff670,#fff671,#fff672,#fff673,#fff674,#fff675,#fff676,#fff677,#fff674,#fff670,#fff56c,#fff569,#fff565,#fff462,#fff45e,#fff45b,#fff457,#fff354,#fff350,#fff248,#fff241,#fff13a,#fff132,#fff02b,#ffef23,#ffee17,#fee714,#fedf14,#fdd114,#fbbf15,#f9a819,#f6911d,#f15522,#ee3d21,#ee3d21,#f04a23,#f36921,#f36a21)"></i><i style="background:linear-gradient(#ffee18,#ffee1a,#ffef1c,#ffef1f,#ffef21,#ffef23,#ffef26,#fff028,#fff02a,#fff02d,#fff02f,#fff032,#fff134,#fff136,#fff13b,#fff240,#fff245,#fff24a,#fff34f,#fff354,#fff458,#fff45d,#fff562,#fff567,#fff56c,#fff671,#fff676,#fff677,#fff678,#fff679,#fff77b,#fff77c,#fff77d,#fff77e,#fff77f,#fff780,#fff77c,#fff679,#fff675,#fff671,#fff56d,#fff56a,#fff566,#fff562,#fff45f,#fff45b,#fff457,#fff34f,#fff247,#fff23f,#fff138,#fff030,#fff028,#ffef1b,#ffe914,#fee114,#fdd314,#fbc215,#f9ac19,#f7951d,#f15a22,#ee3e21,#ee3d21,#f04c23,#f36a21,#f36b21)"></i><i style="background:linear-gradient(#ffee1a,#ffef1c,#ffef1f,#ffef21,#ffef24,#fff026,#fff029,#fff02b,#fff02e,#fff030,#fff133,#fff135,#fff138,#fff13b,#fff240,#fff245,#fff34a,#fff34f,#fff355,#fff45a,#fff45f,#fff564,#fff56a,#fff66f,#fff674,#fff679,#fff77f,#fff780,#fff781,#fff783,#fff784,#fff785,#fff886,#fff887,#fff888,#fff889,#fff785,#fff782,#fff77e,#fff67a,#fff676,#fff672,#fff66e,#fff56a,#fff567,#fff563,#fff45f,#fff456,#fff34e,#fff246,#fff13d,#fff135,#fff02d,#ffef20,#ffeb14,#fee314,#fdd514,#fcc415,#f9af18,#f7991c,#f25f21,#ee4022,#ee3d21,#f04e23,#f36c20,#f36b21)"></i><i style="background:linear-gradient(#ffef1c,#ffef1f,#ffef21,#ffef24,#fff027,#fff029,#fff02c,#fff02f,#fff031,#fff134,#fff137,#fff139,#fff13c,#fff23f,#fff244,#fff34a,#fff350,#fff355,#fff45b,#fff461,#fff566,#fff56c,#fff671,#fff677,#fff77d,#fff782,#fff888,#fff88a,#fff88b,#fff88c,#fff88d,#fff88e,#fff88f,#fff891,#fff892,#fff893,#fff88f,#fff88b,#fff887,#fff783,#fff77f,#fff77b,#fff677,#fff673,#fff66f,#fff56b,#fff567,#fff45e,#fff355,#fff34c,#fff243,#fff13b,#fff032,#ffef24,#ffed14,#fee414,#fdd614,#fcc614,#fab218,#f89d1b,#f26421,#ef4222,#ee3d21,#f05023,#f36d20,#f36c20)"></i><i style="background:linear-gradient(#ffef1e,#ffef21,#ffef24,#fff027,#fff02a,#fff02c,#fff02f,#fff132,#fff135,#fff138,#fff13b,#fff13e,#fff240,#fff243,#fff249,#fff34f,#fff355,#fff45b,#fff461,#fff567,#fff56d,#fff673,#fff679,#fff77f,#fff785,#fff88b,#fff891,#fff893,#fff894,#fff995,#fff996,#fff997,#fff999,#fff99a,#fff99b,#fff99c,#fff998,#fff894,#fff890,#fff88c,#fff888,#fff784,#fff780,#fff77c,#fff678,#fff674,#fff66f,#fff566,#fff45c,#fff353,#fff249,#fff240,#fff136,#fff028,#ffee15,#fee614,#fdd814,#fcc814,#fab417,#f8a11a,#f36921,#ef4422,#ee3e21,#f15322,#f36e20,#f36d20)"></i><i style="background:linear-gradient(#ffef20,#ffef23,#fff026,#fff029,#fff02c,#fff02f,#fff133,#fff136,#fff139,#fff13c,#fff23f,#fff242,#fff245,#fff248,#fff34e,#fff354,#fff45b,#fff461,#fff568,#fff56e,#fff674,#fff77b,#fff781,#fff887,#fff88d,#fff894,#fff99a,#fff99c,#fff99d,#fff99e,#fff99f,#fff9a0,#fff9a1,#fff9a3,#fff9a4,#fffaa5,#fff9a1,#fff99d,#fff999,#fff995,#fff891,#fff88d,#fff889,#fff784,#fff780,#fff77c,#fff678,#fff56e,#fff563,#fff459,#fff34f,#fff245,#fff13b,#fff02d,#ffee18,#fee714,#fdd914,#fcca14,#fab717,#f9a51a,#f36e20,#ef4522,#ee3e21,#f15522,#f37020,#f36e20)"></i><i style="background:linear-gradient(#ffef23,#ffef26,#fff029,#fff02c,#fff02f,#fff133,#fff136,#fff139,#fff13c,#fff23f,#fff243,#fff246,#fff249,#fff34c,#fff353,#fff45a,#fff460,#fff567,#fff56e,#fff674,#fff77b,#fff782,#fff888,#fff88f,#fff995,#fff99c,#fff9a2,#fff9a4,#fffaa5,#fffaa6,#fffaa8,#fffaa9,#fffaaa,#fffaab,#fffaac,#fffaad,#fffaa9,#fffaa5,#fff9a1,#fff99d,#fff999,#fff995,#fff891,#fff88d,#fff888,#fff784,#fff780,#fff675,#fff56a,#fff460,#fff355,#fff34a,#fff240,#fff031,#ffef1c,#ffe814,#fdda14,#fccb14,#fbba16,#f9a919,#f47320,#ef4723,#ee3e21,#f15822,#f47120,#f36f20)"></i><i style="background:linear-gradient(#ffef25,#fff028,#fff02c,#fff02f,#fff132,#fff136,#fff139,#fff13c,#fff240,#fff243,#fff247,#fff34a,#fff34d,#fff351,#fff458,#fff45f,#fff566,#fff56d,#fff674,#fff77b,#fff782,#fff888,#fff88f,#fff996,#fff99d,#fff9a3,#fffaaa,#fffaac,#fffaad,#fffaae,#fffaaf,#fffab1,#fffab2,#fffab3,#fffab4,#fffab5,#fffab1,#fffaad,#fffaa9,#fff9a4,#fff9a0,#fff99c,#fff998,#fff894,#fff890,#fff88c,#fff887,#fff77c,#fff671,#fff566,#fff45a,#fff34f,#fff244,#fff135,#ffef1f,#ffea14,#fedb14,#fccc14,#fbbc16,#f9ad19,#f47820,#f04923,#ee3f21,#f15a22,#f47220,#f36f20)"></i><i style="background:linear-gradient(#fff027,#fff02b,#fff02e,#fff032,#fff135,#fff139,#fff13c,#fff240,#fff243,#fff247,#fff34b,#fff34e,#fff352,#fff355,#fff45d,#fff564,#fff56b,#fff672,#fff679,#fff780,#fff888,#fff88f,#fff996,#fff99c,#fff9a3,#fffaaa,#fffab1,#fffab3,#fffab4,#fffbb5,#fffbb6,#fffbb8,#fffbb9,#fffbba,#fffbbb,#fffbbc,#fffbb7,#fffab3,#fffaaf,#fffaab,#fffaa7,#fff9a3,#fff99e,#fff99a,#fff996,#fff892,#fff88d,#fff782,#fff676,#fff56b,#fff45f,#fff354,#fff248,#fff138,#ffef23,#ffeb14,#fedd14,#fccd14,#fbbe16,#fab018,#f57d1f,#f04b23,#ee3f22,#f25c22,#f47420,#f37020)"></i><i style="background:linear-gradient(#fff029,#fff02d,#fff031,#fff134,#fff138,#fff13c,#fff23f,#fff243,#fff247,#fff34b,#fff34e,#fff352,#fff356,#fff45a,#fff461,#fff568,#fff670,#fff677,#fff77f,#fff786,#fff88d,#fff994,#fff99b,#fff9a2,#fffaa9,#fffab1,#fffbb8,#fffbba,#fffbbb,#fffbbc,#fffbbd,#fffbbe,#fffbbf,#fffbc0,#fffbc1,#fffbc1,#fffbbd,#fffbb9,#fffab5,#fffab0,#fffaac,#fffaa8,#fff9a4,#fff9a0,#fff99c,#fff997,#fff893,#fff887,#fff77b,#fff670,#fff564,#fff458,#fff34c,#fff13c,#ffef26,#ffec14,#fede14,#fdce14,#fbc115,#fab317,#f5811f,#f04d23,#ee3f22,#f25e22,#f47520,#f47120)"></i><i style="background:linear-gradient(#fff02b,#fff02f,#fff133,#fff137,#fff13b,#fff23f,#fff243,#fff247,#fff34a,#fff34e,#fff352,#fff456,#fff45a,#fff45e,#fff566,#fff56d,#fff675,#fff77c,#fff784,#fff88b,#fff892,#fff99a,#fff9a1,#fffaa8,#fffaaf,#fffbb7,#fffbbe,#fffbc0,#fffbc1,#fffbc1,#fffbc2,#fffbc3,#fffbc4,#fffbc5,#fffcc6,#fffcc6,#fffbc2,#fffbbe,#fffbba,#fffbb6,#fffab1,#fffaad,#fffaa9,#fffaa5,#fff9a1,#fff99c,#fff998,#fff88c,#fff780,#fff674,#fff568,#fff45c,#fff350,#fff23f,#fff029,#ffed14,#fedf14,#fdcf14,#fbc315,#fab617,#f5851f,#f05023,#ee3f22,#f26021,#f47720,#f47220)"></i><i style="background:linear-gradient(#fff02d,#fff031,#fff135,#fff13a,#fff13e,#fff242,#fff246,#fff24a,#fff34e,#fff352,#fff456,#fff45a,#fff45e,#fff562,#fff56a,#fff672,#fff679,#fff781,#fff889,#fff890,#fff998,#fff99f,#fffaa6,#fffaae,#fffbb5,#fffbbd,#fffbc4,#fffcc6,#fffcc7,#fffcc7,#fffcc8,#fffcc9,#fffcc9,#fffcca,#fffccb,#fffccb,#fffcc7,#fffbc3,#fffbbf,#fffbbb,#fffbb6,#fffab2,#fffaae,#fffaaa,#fffaa5,#fff9a1,#fff99d,#fff891,#fff785,#fff679,#fff56c,#fff460,#fff354,#fff243,#fff02c,#ffee15,#fee014,#fdd014,#fcc515,#fbb916,#f6891e,#f15322,#ee3f22,#f26121,#f4791f,#f47420)"></i><i style="background:linear-gradient(#fff02f,#fff134,#fff138,#fff13c,#fff240,#fff245,#fff249,#fff34d,#fff351,#fff356,#fff45a,#fff45e,#fff562,#fff567,#fff66e,#fff676,#fff77e,#fff886,#fff88e,#fff995,#fff99d,#fff9a4,#fffaac,#fffab3,#fffbbb,#fffbc2,#fffcca,#fffccc,#fffccc,#fffccd,#fffccd,#fffcce,#fffcce,#fffccf,#fffcd0,#fffcd0,#fffccc,#fffcc8,#fffbc3,#fffbbf,#fffbbb,#fffbb7,#fffab2,#fffaae,#fffaaa,#fffaa6,#fff9a1,#fff995,#fff889,#fff77d,#fff670,#fff564,#fff457,#fff246,#fff02e,#ffee17,#fee114,#fdd114,#fcc614,#fbbc16,#f68d1e,#f15522,#ee4022,#f26321,#f47a1f,#f47520)"></i><i style="background:linear-gradient(#fff031,#fff136,#fff13a,#fff23f,#fff243,#fff248,#fff34c,#fff350,#fff355,#fff459,#fff45e,#fff562,#fff566,#fff56b,#fff673,#fff77b,#fff783,#fff88b,#fff892,#fff99a,#fff9a2,#fffaa9,#fffab1,#fffbb9,#fffbc0,#fffcc8,#fffccf,#fffcd1,#fffcd1,#fffcd2,#fffcd2,#fffcd3,#fffcd3,#fffcd4,#fffcd4,#fffcd4,#fffcd0,#fffccc,#fffcc8,#fffbc3,#fffbbf,#fffbbb,#fffbb7,#fffab3,#fffaae,#fffaaa,#fffaa6,#fff999,#fff88d,#fff781,#fff674,#fff567,#fff45b,#fff249,#fff031,#ffee19,#fee214,#fdd214,#fcc814,#fbbe16,#f6901d,#f15822,#ee4022,#f26521,#f57c1f,#f47620)"></i><i style="background:linear-gradient(#fff134,#fff138,#fff13d,#fff241,#fff246,#fff34b,#fff34f,#fff354,#fff458,#fff45d,#fff461,#fff566,#fff56b,#fff66f,#fff677,#fff77f,#fff887,#fff88f,#fff997,#fff99f,#fffaa6,#fffaae,#fffbb6,#fffbbe,#fffbc5,#fffccd,#fffcd5,#fffdd6,#fffdd6,#fffdd7,#fffdd7,#fffdd7,#fffdd8,#fffdd8,#fffdd8,#fffdd8,#fffcd4,#fffcd0,#fffccc,#fffcc7,#fffbc3,#fffbbf,#fffbbb,#fffbb7,#fffab2,#fffaae,#fffaaa,#fff99d,#fff891,#fff784,#fff678,#fff56b,#fff45e,#fff34c,#fff134,#ffef1b,#fee314,#fdd314,#fcc914,#fbc115,#f7931d,#f15a22,#ee4022,#f36621,#f57e1f,#f47820)"></i><i style="background:linear-gradient(#fff136,#fff13b,#fff23f,#fff244,#fff249,#fff34e,#fff352,#fff457,#fff45c,#fff461,#fff565,#fff56a,#fff66f,#fff674,#fff77c,#fff784,#fff88c,#fff894,#fff99b,#fff9a3,#fffaab,#fffab3,#fffbba,#fffbc2,#fffcca,#fffcd2,#fffdd9,#fffddb,#fffddb,#fffddb,#fffddb,#fffddb,#fffddc,#fffddc,#fffddc,#fffddc,#fffdd8,#fffcd3,#fffccf,#fffccb,#fffcc7,#fffbc3,#fffbbe,#fffbba,#fffbb6,#fffab2,#fffaad,#fff9a1,#fff995,#fff888,#fff77b,#fff66e,#fff461,#fff34f,#fff136,#ffef1d,#fee314,#fdd414,#fccb14,#fcc315,#f7961c,#f25c22,#ee4022,#f36821,#f5801f,#f4791f)"></i><i style="background:linear-gradient(#fff138,#fff13d,#fff242,#fff247,#fff34c,#fff351,#fff356,#fff45a,#fff45f,#fff564,#fff569,#fff66e,#fff673,#fff678,#fff780,#fff888,#fff890,#fff998,#fff9a0,#fffaa7,#fffaaf,#fffbb7,#fffbbf,#fffcc6,#fffcce,#fffcd6,#fffdde,#fffddf,#fffddf,#fffddf,#fffddf,#fffddf,#fffddf,#fffddf,#fffddf,#fffddf,#fffddb,#fffdd7,#fffcd3,#fffcce,#fffcca,#fffcc6,#fffbc2,#fffbbe,#fffbba,#fffbb5,#fffab1,#fff9a4,#fff998,#fff88b,#fff77e,#fff671,#fff564,#fff352,#fff138,#ffef1f,#fee414,#fdd514,#fccc14,#fcc614,#f7991c,#f25f21,#ee4022,#f36921,#f5811f,#f47a1f)"></i><i style="background:linear-gradient(#fff13b,#fff240,#fff245,#fff24a,#fff34f,#fff354,#fff459,#fff45e,#fff563,#fff568,#fff56d,#fff672,#fff677,#fff77c,#fff784,#fff88c,#fff894,#fff99c,#fff9a3,#fffaab,#fffab3,#fffbbb,#fffbc2,#fffcca,#fffcd2,#fffdd9,#fffde1,#fffde2,#fffde2,#fffde2,#fffde2,#fffde2,#fffde2,#fffde2,#fffde2,#fffde2,#fffdde,#fffdda,#fffcd6,#fffcd1,#fffccd,#fffcc9,#fffbc5,#fffbc1,#fffbbd,#fffbb8,#fffab4,#fffaa7,#fff99b,#fff88e,#fff781,#fff674,#fff567,#fff354,#fff13b,#ffef21,#fee514,#fdd614,#fccd14,#fcc814,#f89c1b,#f26021,#ee4022,#f36a21,#f5831f,#f47c1f)"></i><i style="background:linear-gradient(#fff13d,#fff242,#fff248,#fff34d,#fff352,#fff457,#fff45c,#fff461,#fff567,#fff56c,#fff671,#fff676,#fff77b,#fff781,#fff889,#fff890,#fff998,#fff9a0,#fffaa7,#fffaaf,#fffbb6,#fffbbe,#fffcc6,#fffccd,#fffcd5,#fffddc,#fffde4,#fffde5,#fffde5,#fffde5,#fffde5,#fffde5,#fffde5,#fffde5,#fffde5,#fffde5,#fffde1,#fffddd,#fffdd8,#fffcd4,#fffcd0,#fffccc,#fffcc8,#fffbc4,#fffbbf,#fffbbb,#fffbb7,#fffaaa,#fff99d,#fff891,#fff784,#fff677,#fff56a,#fff457,#fff13d,#ffef24,#fee614,#fdd714,#fcce14,#fcca14,#f89f1b,#f26221,#ee4022,#f36b21,#f5841f,#f57d1f)"></i><i style="background:linear-gradient(#fff240,#fff245,#fff34b,#fff350,#fff355,#fff45b,#fff460,#fff565,#fff56a,#fff670,#fff675,#fff77a,#fff780,#fff785,#fff88d,#fff994,#fff99c,#fff9a3,#fffaab,#fffab2,#fffbba,#fffbc1,#fffcc9,#fffcd0,#fffdd8,#fffddf,#fffee7,#fffee8,#fffee8,#fffee8,#fffee8,#fffee8,#fffee8,#fffee8,#fffee8,#fffee8,#fffde3,#fffddf,#fffddb,#fffdd7,#fffcd3,#fffccf,#fffcca,#fffcc6,#fffbc2,#fffbbe,#fffbb9,#fffaad,#fff9a0,#fff893,#fff886,#fff679,#fff56c,#fff459,#fff240,#ffef26,#fee714,#fdd814,#fdd014,#fccc14,#f8a11a,#f26421,#ee4122,#f36c20,#f5851f,#f57e1f)"></i><i style="background:linear-gradient(#fff243,#fff248,#fff34e,#fff353,#fff459,#fff45e,#fff563,#fff569,#fff66e,#fff674,#fff679,#fff77e,#fff784,#fff889,#fff891,#fff998,#fff9a0,#fffaa7,#fffaae,#fffbb6,#fffbbd,#fffbc5,#fffccc,#fffcd3,#fffddb,#fffde2,#fffeea,#fffeeb,#fffeeb,#fffeeb,#fffeeb,#fffeeb,#fffeeb,#fffeea,#fffeea,#fffeea,#fffde6,#fffde2,#fffdde,#fffdd9,#fffcd5,#fffcd1,#fffccd,#fffcc9,#fffbc5,#fffbc0,#fffbbc,#fffaaf,#fff9a2,#fff996,#fff889,#fff77c,#fff66f,#fff45c,#fff242,#fff028,#ffe814,#fdd914,#fdd114,#fcce14,#f8a41a,#f26621,#ef4122,#f36d20,#f5861e,#f57e1f)"></i><i style="background:linear-gradient(#fff246,#fff34c,#fff351,#fff457,#fff45c,#fff462,#fff567,#fff56d,#fff672,#fff678,#fff77d,#fff783,#fff888,#fff88e,#fff995,#fff99c,#fff9a3,#fffaab,#fffab2,#fffbb9,#fffbc1,#fffcc8,#fffccf,#fffdd6,#fffdde,#fffde5,#fffeec,#fffeed,#fffeed,#fffeed,#fffeed,#fffeed,#fffeed,#fffeed,#fffeed,#fffeed,#fffee8,#fffde4,#fffde0,#fffddc,#fffdd8,#fffcd3,#fffccf,#fffccb,#fffcc7,#fffbc3,#fffbbe,#fffab1,#fffaa5,#fff998,#fff88b,#fff77e,#fff671,#fff45e,#fff244,#fff02a,#ffe914,#fdda14,#fdd214,#fdcf14,#f9a61a,#f36821,#ef4122,#f36e20,#f6871e,#f57f1f)"></i><i style="background:linear-gradient(#fff249,#fff34f,#fff355,#fff45a,#fff460,#fff565,#fff56b,#fff670,#fff676,#fff77c,#fff781,#fff887,#fff88c,#fff892,#fff999,#fff9a0,#fffaa7,#fffaae,#fffbb5,#fffbbd,#fffbc4,#fffccb,#fffcd2,#fffdd9,#fffde0,#fffee7,#fffeef,#fffef0,#fffef0,#fffef0,#fffeef,#fffeef,#fffeef,#fffeef,#fffeef,#fffeef,#fffeeb,#fffee6,#fffde2,#fffdde,#fffdda,#fffcd6,#fffcd1,#fffccd,#fffcc9,#fffbc5,#fffbc0,#fffab4,#fffaa7,#fff99a,#fff88e,#fff780,#fff673,#fff460,#fff246,#fff02c,#ffea14,#fddb14,#fdd314,#fdd114,#f9a819,#f36a21,#ef4222,#f36f20,#f6871e,#f5801f)"></i><i style="background:linear-gradient(#fff34d,#fff352,#fff458,#fff45e,#fff563,#fff569,#fff66f,#fff674,#fff67a,#fff780,#fff785,#fff88b,#fff890,#fff996,#fff99d,#fff9a4,#fffaab,#fffab2,#fffbb9,#fffbc0,#fffcc7,#fffcce,#fffcd5,#fffddc,#fffde3,#fffeea,#fffef1,#fffef2,#fffef2,#fffef2,#fffef1,#fffef1,#fffef1,#fffef1,#fffef1,#fffef1,#fffeed,#fffee8,#fffde4,#fffde0,#fffddc,#fffdd8,#fffcd4,#fffccf,#fffccb,#fffcc7,#fffbc2,#fffbb6,#fffaa9,#fff99c,#fff890,#fff782,#fff675,#fff562,#fff248,#fff02f,#ffeb14,#fedc14,#fdd514,#fdd314,#f9aa19,#f36c20,#ef4322,#f37020,#f6881e,#f5811f)"></i><i style="background:linear-gradient(#fff350,#fff356,#fff45c,#fff461,#fff567,#fff56d,#fff673,#fff678,#fff77e,#fff784,#fff889,#fff88f,#fff994,#fff99a,#fff9a1,#fffaa8,#fffaae,#fffbb5,#fffbbc,#fffbc3,#fffcca,#fffcd0,#fffdd7,#fffdde,#fffde5,#fffeec,#fffef2,#fffef3,#fffef3,#fffef3,#fffef3,#fffef3,#fffef3,#fffef3,#fffef3,#fffef3,#fffeee,#fffeea,#fffde6,#fffde2,#fffdde,#fffdd9,#fffcd5,#fffcd1,#fffccd,#fffcc9,#fffbc4,#fffbb7,#fffaab,#fff99e,#fff891,#fff784,#fff677,#fff564,#fff34a,#fff031,#ffec14,#fedd14,#fdd614,#fdd514,#f9ad19,#f36d20,#ef4322,#f37020,#f6891e,#f5821f)"></i><i style="background:linear-gradient(#fff354,#fff45a,#fff45f,#fff565,#fff56b,#fff671,#fff676,#fff77c,#fff782,#fff888,#fff88d,#fff893,#fff999,#fff99e,#fffaa5,#fffaab,#fffab2,#fffbb8,#fffbbf,#fffcc6,#fffccc,#fffcd3,#fffdd9,#fffde0,#fffee7,#fffeed,#fffef4,#fffef5,#fffef5,#fffef5,#fffef5,#fffef5,#fffef4,#fffef4,#fffef4,#fffef4,#fffef0,#fffeec,#fffee8,#fffde3,#fffddf,#fffddb,#fffdd7,#fffcd3,#fffcce,#fffcca,#fffcc6,#fffbb9,#fffaac,#fff9a0,#fff893,#fff886,#fff679,#fff566,#fff34c,#fff133,#ffed14,#fede14,#fdd714,#fdd714,#f9af18,#f36f20,#ef4422,#f47120,#f68a1e,#f5821f)"></i><i style="background:linear-gradient(#fff458,#fff45d,#fff563,#fff569,#fff66f,#fff675,#fff77a,#fff780,#fff886,#fff88c,#fff892,#fff997,#fff99d,#fff9a2,#fffaa9,#fffaaf,#fffbb5,#fffbbc,#fffbc2,#fffcc8,#fffccf,#fffcd5,#fffddb,#fffde2,#fffee8,#fffeee,#fffef5,#fffef6,#fffef6,#fffef6,#fffef6,#fffef6,#fffef6,#fffef6,#fffef6,#fffef5,#fffef1,#fffeed,#fffee9,#fffde5,#fffde0,#fffddc,#fffdd8,#fffcd4,#fffcd0,#fffccc,#fffcc7,#fffbba,#fffaae,#fff9a1,#fff995,#fff888,#fff77b,#fff568,#fff34e,#fff135,#ffee14,#fedf14,#fdd914,#fdd814,#fab118,#f37120,#ef4422,#f47220,#f68a1e,#f5831f)"></i></div>
<svg width="520" height="295" viewBox="0 0 520 295" style="position:absolute;left:0;top:0;font-family:'Liberation Sans',Arial,sans-serif">
<defs><linearGradient id="hot"><stop offset="0" stop-color="#000000"/><stop offset="0.04" stop-color="#190000"/><stop offset="0.1" stop-color="#4b0000"/><stop offset="0.2" stop-color="#910005"/><stop offset="0.3" stop-color="#d70005"/><stop offset="0.375" stop-color="#f50505"/><stop offset="0.47" stop-color="#ff460a"/><stop offset="0.56" stop-color="#ff870a"/><stop offset="0.66" stop-color="#ffc80a"/><stop offset="0.75" stop-color="#fff20a"/><stop offset="0.875" stop-color="#fffa87"/><stop offset="1" stop-color="#ffffff"/></linearGradient></defs>

<rect x="51.60" y="39.30" width="195.90" height="12.20" fill="url(#hot)"/>
<rect x="323.70" y="39.30" width="195.60" height="12.20" fill="url(#hot)"/>
<rect x="51.6" y="39.3" width="195.9" height="12.200000000000003" fill="none" stroke="#000" stroke-width="1.5"/>
<rect x="323.7" y="39.3" width="195.59999999999997" height="12.200000000000003" fill="none" stroke="#000" stroke-width="1.5"/>
<rect x="52.0" y="59.2" width="195.3" height="195.0" fill="none" stroke="#000" stroke-width="1.5"/>
<rect x="324.0" y="59.2" width="195.29999999999995" height="195.0" fill="none" stroke="#000" stroke-width="1.5"/>
<path d="M87.50 254.2v-2.2M87.50 59.2v2.2M123.00 254.2v-2.2M123.00 59.2v2.2M158.50 254.2v-2.2M158.50 59.2v2.2M194.00 254.2v-2.2M194.00 59.2v2.2M229.50 254.2v-2.2M229.50 59.2v2.2M52.0 229.82h2.2M247.3 229.82h-2.2M52.0 203.44h2.2M247.3 203.44h-2.2M52.0 177.06h2.2M247.3 177.06h-2.2M52.0 150.68h2.2M247.3 150.68h-2.2M52.0 124.30h2.2M247.3 124.30h-2.2M52.0 97.92h2.2M247.3 97.92h-2.2M52.0 71.54h2.2M247.3 71.54h-2.2M359.50 254.2v-2.2M359.50 59.2v2.2M395.00 254.2v-2.2M395.00 59.2v2.2M430.50 254.2v-2.2M430.50 59.2v2.2M466.00 254.2v-2.2M466.00 59.2v2.2M501.50 254.2v-2.2M501.50 59.2v2.2M324.0 229.82h2.2M519.3 229.82h-2.2M324.0 203.44h2.2M519.3 203.44h-2.2M324.0 177.06h2.2M519.3 177.06h-2.2M324.0 150.68h2.2M519.3 150.68h-2.2M324.0 124.30h2.2M519.3 124.30h-2.2M324.0 97.92h2.2M519.3 97.92h-2.2M324.0 71.54h2.2M519.3 71.54h-2.2" stroke="#000" stroke-width="1.2" fill="none"/>
<path d="M72.65 39.3v1.6M72.65 51.5v-1.6M94.30 39.3v1.6M94.30 51.5v-1.6M115.95 39.3v1.6M115.95 51.5v-1.6M137.59 39.3v1.6M137.59 51.5v-1.6M159.24 39.3v1.6M159.24 51.5v-1.6M180.89 39.3v1.6M180.89 51.5v-1.6M202.54 39.3v1.6M202.54 51.5v-1.6M224.19 39.3v1.6M224.19 51.5v-1.6M245.84 39.3v1.6M245.84 51.5v-1.6M346.44 39.3v1.6M346.44 51.5v-1.6M371.82 39.3v1.6M371.82 51.5v-1.6M397.19 39.3v1.6M397.19 51.5v-1.6M422.57 39.3v1.6M422.57 51.5v-1.6M447.95 39.3v1.6M447.95 51.5v-1.6M473.32 39.3v1.6M473.32 51.5v-1.6M498.70 39.3v1.6M498.70 51.5v-1.6" stroke="#000" stroke-width="1.2" fill="none"/>
<g stroke="#000" stroke-width="0.5"><text transform="translate(0.8 15.6)" font-size="21.4">(a) HAADF intensity</text>
<text transform="translate(271.7 15.6)" font-size="21.6">(b) material contrast</text>
<text x="94.30" y="36.3" font-size="17" text-anchor="middle">0.1</text>
<text x="137.59" y="36.3" font-size="17" text-anchor="middle">0.2</text>
<text x="180.89" y="36.3" font-size="17" text-anchor="middle">0.3</text>
<text x="224.19" y="36.3" font-size="17" text-anchor="middle">0.4</text>
<text x="345.44" y="36.3" font-size="17" text-anchor="middle">1</text>
<text x="396.19" y="36.3" font-size="17" text-anchor="middle">1.2</text>
<text x="446.95" y="36.3" font-size="17" text-anchor="middle">1.4</text>
<text x="497.70" y="36.3" font-size="17" text-anchor="middle">1.6</text>
<text x="47.00" y="235.12" font-size="17" text-anchor="end">20</text>
<text x="47.00" y="208.74" font-size="17" text-anchor="end">40</text>
<text x="47.00" y="182.36" font-size="17" text-anchor="end">60</text>
<text x="47.00" y="155.98" font-size="17" text-anchor="end">80</text>
<text x="47.00" y="129.60" font-size="17" text-anchor="end">100</text>
<text x="47.00" y="103.22" font-size="17" text-anchor="end">120</text>
<text x="47.00" y="76.84" font-size="17" text-anchor="end">140</text>
<text x="52.00" y="274.5" font-size="17" text-anchor="middle">0</text>
<text x="87.50" y="274.5" font-size="17" text-anchor="middle">10</text>
<text x="123.00" y="274.5" font-size="17" text-anchor="middle">20</text>
<text x="158.50" y="274.5" font-size="17" text-anchor="middle">30</text>
<text x="194.00" y="274.5" font-size="17" text-anchor="middle">40</text>
<text x="229.50" y="274.5" font-size="17" text-anchor="middle">50</text>
<text x="319.00" y="235.12" font-size="17" text-anchor="end">20</text>
<text x="319.00" y="208.74" font-size="17" text-anchor="end">40</text>
<text x="319.00" y="182.36" font-size="17" text-anchor="end">60</text>
<text x="319.00" y="155.98" font-size="17" text-anchor="end">80</text>
<text x="319.00" y="129.60" font-size="17" text-anchor="end">100</text>
<text x="319.00" y="103.22" font-size="17" text-anchor="end">120</text>
<text x="319.00" y="76.84" font-size="17" text-anchor="end">140</text>
<text x="324.00" y="274.5" font-size="17" text-anchor="middle">0</text>
<text x="359.50" y="274.5" font-size="17" text-anchor="middle">10</text>
<text x="395.00" y="274.5" font-size="17" text-anchor="middle">20</text>
<text x="430.50" y="274.5" font-size="17" text-anchor="middle">30</text>
<text x="466.00" y="274.5" font-size="17" text-anchor="middle">40</text>
<text x="501.50" y="274.5" font-size="17" text-anchor="middle">50</text>
<text x="84.8" y="291.2" font-size="17.2">In conc. [atom %]</text>
<text x="356.8" y="291.2" font-size="17.2">In conc. [atom %]</text>
<text transform="translate(11.8 156.6) rotate(-90)" font-size="17.4" text-anchor="middle">thickness [nm]</text>
<text transform="translate(283.8 156.6) rotate(-90)" font-size="17.4" text-anchor="middle">thickness [nm]</text></g>
</svg>
</body></html>
